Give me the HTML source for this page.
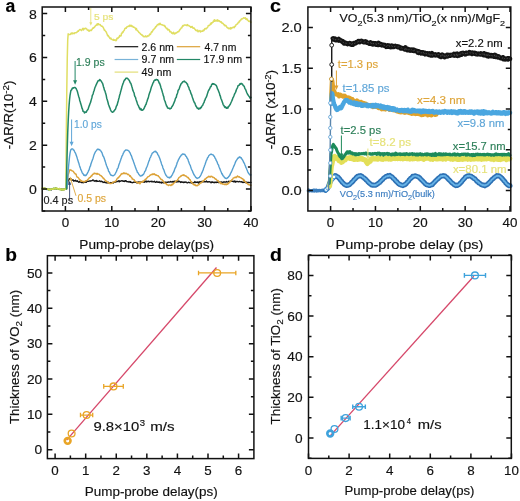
<!DOCTYPE html>
<html><head><meta charset="utf-8"><style>
html,body{margin:0;padding:0;background:#fff;}
svg{display:block;will-change:transform;filter:blur(0.4px);}
text{font-family:"Liberation Sans", sans-serif;stroke-width:0.15px;}
</style></head><body>
<svg width="520" height="501" viewBox="0 0 520 501">
<rect width="520" height="501" fill="#fff"/>
<polyline points="42.20,188.38 42.66,188.73 43.13,188.67 43.59,188.68 44.06,188.34 44.52,188.43 44.98,188.44 45.45,188.81 45.91,188.93 46.38,188.81 46.84,189.18 47.30,189.01 47.77,189.12 48.23,189.50 48.70,189.42 49.16,189.46 49.62,189.06 50.09,188.86 50.55,189.41 51.02,189.33 51.48,189.75 51.94,189.12 52.41,189.07 52.87,189.20 53.34,188.70 53.80,189.12 54.26,188.74 54.73,188.60 55.19,188.86 55.66,188.38 56.12,188.33 56.58,188.89 57.05,188.94 57.51,188.56 57.98,188.78 58.44,189.13 58.90,189.03 59.37,189.09 59.83,189.19 60.30,189.07 60.76,189.24 61.22,189.00 61.69,189.12 62.15,189.29 62.62,189.19 63.08,189.11 63.54,189.19 64.01,189.55 64.47,189.01 64.94,189.08 65.40,188.65 65.86,188.88 66.33,188.69 66.79,188.65 67.26,185.66 67.72,183.13 68.18,180.75 68.65,180.28 69.11,178.55 69.58,178.54 70.04,179.32 70.50,178.90 70.97,179.43 71.43,179.10 71.90,180.28 72.36,180.18 72.82,179.90 73.29,179.97 73.75,181.23 74.22,180.80 74.68,180.56 75.14,180.89 75.61,180.22 76.07,181.23 76.54,180.84 77.00,181.45 77.46,180.81 77.93,181.46 78.39,181.76 78.86,182.38 79.32,181.43 79.78,181.88 80.25,182.01 80.71,181.97 81.18,182.29 81.64,182.63 82.10,182.68 82.57,182.66 83.03,181.91 83.50,182.79 83.96,182.45 84.42,182.29 84.89,182.03 85.35,181.83 85.82,182.33 86.28,182.39 86.74,181.71 87.21,181.20 87.67,181.24 88.14,181.31 88.60,181.38 89.06,181.08 89.53,181.16 89.99,180.72 90.46,181.17 90.92,180.79 91.38,180.81 91.85,180.55 92.31,180.62 92.78,179.84 93.24,180.18 93.70,180.18 94.17,181.36 94.63,180.82 95.10,180.94 95.56,180.60 96.02,181.57 96.49,180.49 96.95,180.59 97.42,181.44 97.88,181.40 98.34,181.42 98.81,181.23 99.27,181.12 99.74,180.75 100.20,181.59 100.66,181.37 101.13,181.66 101.59,181.24 102.06,181.67 102.52,181.56 102.98,182.46 103.45,182.26 103.91,182.55 104.38,181.87 104.84,182.23 105.30,182.62 105.77,182.74 106.23,182.49 106.70,182.94 107.16,183.06 107.62,182.63 108.09,182.01 108.55,182.92 109.02,183.04 109.48,183.25 109.94,183.29 110.41,182.66 110.87,182.52 111.34,182.75 111.80,182.58 112.26,182.59 112.73,182.50 113.19,182.96 113.66,182.51 114.12,182.22 114.58,182.41 115.05,182.20 115.51,182.20 115.98,181.93 116.44,181.43 116.90,181.74 117.37,181.56 117.83,181.16 118.30,181.13 118.76,180.72 119.22,181.90 119.69,180.89 120.15,181.29 120.62,181.07 121.08,180.83 121.54,180.75 122.01,180.78 122.47,181.09 122.94,180.63 123.40,181.29 123.86,181.28 124.33,181.01 124.79,181.51 125.26,180.67 125.72,181.10 126.18,180.78 126.65,181.57 127.11,181.75 127.58,181.64 128.04,181.52 128.50,182.03 128.97,181.78 129.43,181.97 129.90,181.50 130.36,182.31 130.82,181.81 131.29,182.42 131.75,182.57 132.22,182.53 132.68,182.73 133.14,182.32 133.61,182.05 134.07,182.35 134.54,182.21 135.00,181.89 135.46,182.33 135.93,182.35 136.39,182.49 136.86,182.90 137.32,182.10 137.78,182.90 138.25,182.07 138.71,182.25 139.18,181.83 139.64,182.17 140.10,182.37 140.57,181.93 141.03,182.17 141.50,181.99 141.96,181.86 142.42,181.86 142.89,181.82 143.35,181.98 143.82,181.71 144.28,182.30 144.74,181.60 145.21,181.90 145.67,181.10 146.14,181.01 146.60,182.04 147.06,181.33 147.53,181.39 147.99,181.68 148.46,181.15 148.92,181.48 149.38,181.91 149.85,181.43 150.31,181.41 150.78,181.35 151.24,181.82 151.70,181.25 152.17,181.25 152.63,181.92 153.10,181.81 153.56,181.68 154.02,181.90 154.49,181.21 154.95,181.78 155.42,182.25 155.88,182.24 156.34,182.07 156.81,181.37 157.27,182.25 157.74,182.21 158.20,182.14 158.66,182.38 159.13,181.67 159.59,182.65 160.06,182.27 160.52,182.50 160.98,182.38 161.45,183.00 161.91,182.05 162.38,182.68 162.84,182.63 163.30,182.95 163.77,182.87 164.23,182.43 164.70,182.27 165.16,182.32 165.62,182.14 166.09,182.27 166.55,182.45 167.02,182.14 167.48,182.17 167.94,182.35 168.41,182.02 168.87,181.78 169.34,182.07 169.80,182.21 170.26,181.80 170.73,181.35 171.19,181.99 171.66,181.90 172.12,181.86 172.58,181.37 173.05,182.33 173.51,181.57 173.98,181.26 174.44,181.89 174.90,181.10 175.37,181.40 175.83,181.74 176.30,181.48 176.76,182.05 177.22,181.73 177.69,180.96 178.15,181.87 178.62,180.99 179.08,181.65 179.54,181.32 180.01,181.67 180.47,182.46 180.94,181.96 181.40,181.76 181.86,182.25 182.33,182.37 182.79,181.86 183.26,182.25 183.72,182.65 184.18,182.38 184.65,181.92 185.11,182.42 185.58,182.01 186.04,181.87 186.50,182.41 186.97,182.83 187.43,182.93 187.90,182.55 188.36,182.28 188.82,182.51 189.29,182.43 189.75,182.78 190.22,182.54 190.68,182.80 191.14,182.75 191.61,183.06 192.07,183.14 192.54,182.76 193.00,182.95 193.46,182.87 193.93,182.31 194.39,182.53 194.86,181.50 195.32,182.12 195.78,182.59 196.25,182.08 196.71,182.18 197.18,182.47 197.64,181.84 198.10,182.41 198.57,183.12 199.03,181.81 199.50,182.23 199.96,181.50 200.42,182.16 200.89,182.30 201.35,181.37 201.82,182.20 202.28,181.76 202.74,181.33 203.21,181.75 203.67,181.80 204.14,181.73 204.60,181.49 205.06,182.03 205.53,181.57 205.99,181.59 206.46,181.03 206.92,181.92 207.38,182.13 207.85,181.61 208.31,182.00 208.78,181.81 209.24,181.89 209.70,181.58 210.17,182.21 210.63,182.06 211.10,182.90 211.56,182.39 212.02,181.62 212.49,182.39 212.95,182.43 213.42,182.63 213.88,182.07 214.34,182.23 214.81,182.70 215.27,182.12 215.74,182.27 216.20,182.13 216.66,182.61 217.13,181.83 217.59,182.28 218.06,182.46 218.52,182.59 218.98,182.50 219.45,182.13 219.91,182.49 220.38,182.03 220.84,182.17 221.30,181.90 221.77,182.04 222.23,182.30 222.70,182.87 223.16,182.11 223.62,181.90 224.09,182.07 224.55,181.89 225.02,182.18 225.48,182.11 225.94,182.25 226.41,181.44 226.87,181.80 227.34,181.97 227.80,182.20 228.26,181.78 228.73,181.22 229.19,181.51 229.66,181.87 230.12,181.13 230.58,181.11 231.05,181.24 231.51,181.30 231.98,181.17 232.44,181.37 232.90,181.29 233.37,181.81 233.83,181.06 234.30,181.49 234.76,180.91 235.22,182.26 235.69,181.38 236.15,181.31 236.62,181.76 237.08,181.53 237.54,181.45 238.01,181.54 238.47,181.93 238.94,181.83 239.40,181.48 239.86,181.43 240.33,181.85 240.79,181.89 241.26,181.88 241.72,181.64 242.18,182.37 242.65,182.49 243.11,182.05 243.58,182.48 244.04,182.34 244.50,182.15 244.97,182.05 245.43,182.59 245.90,182.01 246.36,182.88 246.82,182.14 247.29,182.86 247.75,182.78 248.22,182.16 248.68,182.52 249.14,182.66 249.61,182.56 250.07,182.26 250.54,182.44 251.00,182.43" fill="none" stroke="#151515" stroke-width="1.3" stroke-linejoin="round" stroke-linecap="round" />
<polyline points="42.20,188.84 42.66,188.84 43.13,188.20 43.59,188.64 44.06,188.56 44.52,188.80 44.98,188.42 45.45,188.40 45.91,188.93 46.38,188.87 46.84,189.25 47.30,188.79 47.77,189.06 48.23,189.52 48.70,189.11 49.16,189.33 49.62,189.33 50.09,189.33 50.55,189.52 51.02,189.43 51.48,189.10 51.94,189.16 52.41,189.26 52.87,188.51 53.34,188.90 53.80,188.88 54.26,188.83 54.73,188.47 55.19,188.36 55.66,188.50 56.12,188.36 56.58,188.90 57.05,188.70 57.51,188.78 57.98,188.76 58.44,188.75 58.90,189.40 59.37,188.37 59.83,189.34 60.30,189.16 60.76,189.13 61.22,189.18 61.69,189.36 62.15,190.06 62.62,189.66 63.08,189.22 63.54,189.54 64.01,189.50 64.47,189.70 64.94,188.82 65.40,188.88 65.86,189.09 66.33,188.83 66.79,188.73 67.26,183.61 67.72,178.50 68.18,175.13 68.65,173.48 69.11,172.04 69.58,170.38 70.04,169.58 70.50,170.16 70.97,170.21 71.43,170.13 71.90,170.88 72.36,170.84 72.82,171.03 73.29,171.56 73.75,172.06 74.22,172.90 74.68,173.09 75.14,173.98 75.61,174.01 76.07,174.21 76.54,175.93 77.00,177.03 77.46,177.08 77.93,177.43 78.39,177.80 78.86,178.36 79.32,179.51 79.78,180.00 80.25,179.78 80.71,180.96 81.18,180.59 81.64,181.31 82.10,181.21 82.57,181.40 83.03,181.48 83.50,181.49 83.96,182.06 84.42,181.55 84.89,181.51 85.35,181.22 85.82,180.67 86.28,180.88 86.74,180.69 87.21,180.33 87.67,179.78 88.14,179.00 88.60,179.06 89.06,177.94 89.53,177.75 89.99,177.43 90.46,177.31 90.92,176.32 91.38,175.72 91.85,176.10 92.31,174.72 92.78,174.20 93.24,174.30 93.70,173.96 94.17,173.08 94.63,173.28 95.10,173.84 95.56,173.47 96.02,173.48 96.49,173.51 96.95,174.31 97.42,173.40 97.88,174.02 98.34,173.96 98.81,174.31 99.27,174.27 99.74,174.98 100.20,175.50 100.66,175.45 101.13,175.58 101.59,176.58 102.06,176.48 102.52,177.32 102.98,178.06 103.45,177.86 103.91,179.12 104.38,179.00 104.84,179.96 105.30,180.11 105.77,181.10 106.23,181.38 106.70,181.15 107.16,181.79 107.62,182.17 108.09,182.61 108.55,182.57 109.02,183.38 109.48,183.46 109.94,183.26 110.41,183.55 110.87,183.53 111.34,183.30 111.80,183.23 112.26,183.13 112.73,182.32 113.19,182.29 113.66,181.93 114.12,182.01 114.58,181.80 115.05,181.70 115.51,180.89 115.98,180.99 116.44,180.01 116.90,179.05 117.37,178.25 117.83,177.94 118.30,178.01 118.76,177.05 119.22,176.96 119.69,175.94 120.15,175.77 120.62,175.01 121.08,174.04 121.54,174.21 122.01,173.41 122.47,173.83 122.94,173.76 123.40,173.02 123.86,172.76 124.33,173.42 124.79,173.19 125.26,173.71 125.72,173.38 126.18,173.14 126.65,173.63 127.11,174.01 127.58,174.54 128.04,174.26 128.50,174.45 128.97,174.89 129.43,175.40 129.90,176.33 130.36,175.78 130.82,176.85 131.29,177.35 131.75,177.55 132.22,178.99 132.68,178.79 133.14,179.29 133.61,179.59 134.07,179.72 134.54,180.43 135.00,181.59 135.46,181.47 135.93,181.63 136.39,181.95 136.86,182.68 137.32,183.02 137.78,182.46 138.25,182.65 138.71,182.84 139.18,183.43 139.64,182.26 140.10,183.73 140.57,182.78 141.03,181.82 141.50,182.36 141.96,182.00 142.42,182.19 142.89,181.05 143.35,181.59 143.82,180.71 144.28,180.36 144.74,180.34 145.21,179.28 145.67,179.61 146.14,178.92 146.60,178.26 147.06,177.95 147.53,177.22 147.99,176.65 148.46,176.64 148.92,176.33 149.38,175.96 149.85,175.58 150.31,174.88 150.78,174.95 151.24,174.51 151.70,174.48 152.17,174.57 152.63,173.90 153.10,174.45 153.56,174.09 154.02,173.62 154.49,174.54 154.95,174.31 155.42,174.97 155.88,174.81 156.34,175.37 156.81,175.28 157.27,175.65 157.74,175.77 158.20,175.67 158.66,176.51 159.13,176.82 159.59,177.50 160.06,178.03 160.52,178.71 160.98,179.52 161.45,179.41 161.91,179.40 162.38,180.28 162.84,181.10 163.30,180.87 163.77,182.02 164.23,182.53 164.70,183.16 165.16,183.48 165.62,183.63 166.09,183.23 166.55,184.27 167.02,184.82 167.48,184.92 167.94,184.99 168.41,185.63 168.87,185.14 169.34,185.02 169.80,185.17 170.26,185.05 170.73,185.59 171.19,185.58 171.66,184.41 172.12,184.24 172.58,184.82 173.05,183.91 173.51,183.60 173.98,183.01 174.44,182.68 174.90,182.45 175.37,181.72 175.83,181.23 176.30,180.77 176.76,180.84 177.22,180.69 177.69,179.44 178.15,179.21 178.62,178.10 179.08,177.47 179.54,177.18 180.01,176.98 180.47,176.46 180.94,175.77 181.40,176.10 181.86,175.32 182.33,175.20 182.79,175.21 183.26,174.74 183.72,175.42 184.18,174.91 184.65,175.63 185.11,175.74 185.58,176.07 186.04,175.87 186.50,176.68 186.97,176.75 187.43,177.59 187.90,177.36 188.36,177.63 188.82,178.71 189.29,178.81 189.75,179.75 190.22,179.81 190.68,181.07 191.14,182.19 191.61,181.74 192.07,182.79 192.54,183.58 193.00,183.91 193.46,184.63 193.93,184.50 194.39,185.09 194.86,184.48 195.32,184.92 195.78,185.78 196.25,185.77 196.71,185.44 197.18,185.81 197.64,185.09 198.10,184.91 198.57,184.94 199.03,184.62 199.50,183.98 199.96,183.35 200.42,182.97 200.89,183.07 201.35,182.39 201.82,182.49 202.28,181.66 202.74,181.66 203.21,180.65 203.67,180.84 204.14,180.29 204.60,179.54 205.06,178.92 205.53,179.17 205.99,178.49 206.46,177.91 206.92,177.55 207.38,177.62 207.85,177.06 208.31,176.97 208.78,176.26 209.24,176.42 209.70,176.96 210.17,177.23 210.63,176.49 211.10,176.19 211.56,176.62 212.02,176.52 212.49,177.14 212.95,177.63 213.42,177.18 213.88,177.66 214.34,177.76 214.81,178.76 215.27,178.59 215.74,179.21 216.20,179.12 216.66,179.96 217.13,180.36 217.59,180.75 218.06,180.54 218.52,181.34 218.98,181.99 219.45,182.45 219.91,182.81 220.38,182.33 220.84,183.73 221.30,183.71 221.77,183.48 222.23,183.54 222.70,184.18 223.16,184.05 223.62,184.19 224.09,184.21 224.55,184.58 225.02,184.07 225.48,184.52 225.94,184.00 226.41,184.73 226.87,183.87 227.34,184.35 227.80,184.15 228.26,183.17 228.73,183.24 229.19,182.43 229.66,182.51 230.12,181.18 230.58,181.25 231.05,181.15 231.51,180.25 231.98,179.55 232.44,179.63 232.90,178.77 233.37,177.84 233.83,177.84 234.30,177.76 234.76,177.62 235.22,176.96 235.69,177.42 236.15,177.73 236.62,176.81 237.08,176.87 237.54,175.91 238.01,176.46 238.47,176.91 238.94,177.10 239.40,176.72 239.86,177.38 240.33,177.57 240.79,177.71 241.26,178.00 241.72,178.37 242.18,178.77 242.65,178.81 243.11,179.13 243.58,180.70 244.04,179.78 244.50,181.06 244.97,181.16 245.43,182.28 245.90,182.38 246.36,182.85 246.82,183.29 247.29,183.42 247.75,183.84 248.22,184.68 248.68,184.66 249.14,184.60 249.61,184.79 250.07,185.26 250.54,185.31 251.00,185.30" fill="none" stroke="#dca238" stroke-width="1.4" stroke-linejoin="round" stroke-linecap="round" />
<polyline points="42.20,188.51 42.66,188.45 43.13,188.75 43.59,188.72 44.06,188.84 44.52,188.62 44.98,188.46 45.45,188.71 45.91,188.90 46.38,189.24 46.84,189.00 47.30,189.24 47.77,189.69 48.23,189.72 48.70,189.47 49.16,189.63 49.62,189.08 50.09,189.42 50.55,189.61 51.02,189.43 51.48,188.91 51.94,189.37 52.41,188.90 52.87,188.87 53.34,188.55 53.80,188.66 54.26,188.78 54.73,188.52 55.19,188.57 55.66,188.35 56.12,188.58 56.58,188.15 57.05,188.65 57.51,188.60 57.98,188.92 58.44,188.84 58.90,188.96 59.37,189.03 59.83,188.96 60.30,189.37 60.76,189.51 61.22,189.14 61.69,189.48 62.15,189.58 62.62,189.18 63.08,189.23 63.54,189.92 64.01,189.36 64.47,189.02 64.94,188.91 65.40,189.11 65.86,188.56 66.33,188.97 66.79,188.77 67.26,184.95 67.72,177.57 68.18,170.61 68.65,165.45 69.11,160.84 69.58,156.36 70.04,153.18 70.50,150.84 70.97,149.42 71.43,149.28 71.90,148.84 72.36,148.88 72.82,149.00 73.29,149.97 73.75,149.98 74.22,150.63 74.68,151.82 75.14,152.54 75.61,153.38 76.07,154.90 76.54,155.95 77.00,157.35 77.46,158.95 77.93,160.43 78.39,162.13 78.86,163.20 79.32,165.13 79.78,166.63 80.25,167.65 80.71,169.34 81.18,170.26 81.64,171.21 82.10,172.46 82.57,173.33 83.03,173.84 83.50,174.45 83.96,175.47 84.42,175.66 84.89,175.05 85.35,175.22 85.82,175.64 86.28,175.07 86.74,174.18 87.21,173.78 87.67,172.60 88.14,171.78 88.60,170.63 89.06,169.94 89.53,168.25 89.99,166.60 90.46,165.97 90.92,164.03 91.38,162.70 91.85,161.36 92.31,160.13 92.78,159.03 93.24,157.61 93.70,155.88 94.17,154.61 94.63,153.41 95.10,152.44 95.56,151.54 96.02,151.09 96.49,150.62 96.95,149.73 97.42,149.27 97.88,149.14 98.34,149.49 98.81,149.30 99.27,149.75 99.74,149.67 100.20,150.45 100.66,150.81 101.13,151.40 101.59,152.28 102.06,152.89 102.52,154.57 102.98,155.96 103.45,156.33 103.91,157.45 104.38,158.73 104.84,160.36 105.30,161.64 105.77,163.11 106.23,164.83 106.70,165.97 107.16,166.98 107.62,168.50 108.09,169.04 108.55,171.05 109.02,171.79 109.48,172.32 109.94,173.60 110.41,174.45 110.87,175.11 111.34,175.41 111.80,175.17 112.26,175.66 112.73,175.70 113.19,175.90 113.66,175.33 114.12,175.17 114.58,174.95 115.05,174.21 115.51,173.29 115.98,172.18 116.44,171.54 116.90,170.33 117.37,168.78 117.83,168.31 118.30,167.15 118.76,165.24 119.22,164.04 119.69,162.82 120.15,161.36 120.62,160.17 121.08,158.62 121.54,157.57 122.01,156.06 122.47,155.43 122.94,154.28 123.40,153.07 123.86,152.36 124.33,151.31 124.79,150.88 125.26,150.53 125.72,149.97 126.18,149.96 126.65,150.15 127.11,150.11 127.58,150.22 128.04,150.47 128.50,150.78 128.97,151.14 129.43,151.94 129.90,152.42 130.36,153.47 130.82,154.85 131.29,155.45 131.75,156.73 132.22,158.38 132.68,159.44 133.14,160.52 133.61,162.06 134.07,163.18 134.54,164.66 135.00,165.87 135.46,167.40 135.93,168.43 136.39,169.78 136.86,170.59 137.32,172.22 137.78,172.60 138.25,173.17 138.71,174.04 139.18,174.78 139.64,175.09 140.10,175.79 140.57,175.98 141.03,175.93 141.50,175.80 141.96,175.31 142.42,175.47 142.89,174.52 143.35,174.62 143.82,173.72 144.28,172.72 144.74,171.50 145.21,170.98 145.67,170.31 146.14,168.50 146.60,167.43 147.06,166.48 147.53,165.21 147.99,163.85 148.46,162.37 148.92,160.96 149.38,160.29 149.85,158.11 150.31,157.59 150.78,156.61 151.24,155.35 151.70,154.59 152.17,153.21 152.63,152.84 153.10,152.65 153.56,152.19 154.02,151.89 154.49,151.65 154.95,151.32 155.42,151.74 155.88,151.36 156.34,152.16 156.81,152.67 157.27,153.01 157.74,154.53 158.20,155.12 158.66,155.69 159.13,156.92 159.59,158.08 160.06,159.20 160.52,160.75 160.98,161.96 161.45,163.64 161.91,165.15 162.38,165.69 162.84,167.63 163.30,168.91 163.77,169.64 164.23,170.95 164.70,172.52 165.16,173.59 165.62,174.45 166.09,175.55 166.55,175.90 167.02,176.63 167.48,177.13 167.94,177.32 168.41,177.55 168.87,177.32 169.34,177.35 169.80,178.02 170.26,177.03 170.73,177.14 171.19,176.70 171.66,175.50 172.12,175.14 172.58,174.21 173.05,172.93 173.51,172.41 173.98,171.42 174.44,169.99 174.90,168.61 175.37,167.62 175.83,166.98 176.30,165.54 176.76,164.22 177.22,162.49 177.69,161.62 178.15,160.53 178.62,159.39 179.08,158.80 179.54,157.69 180.01,156.86 180.47,156.51 180.94,155.62 181.40,154.94 181.86,154.96 182.33,154.16 182.79,153.99 183.26,153.86 183.72,154.39 184.18,154.35 184.65,154.30 185.11,154.90 185.58,155.85 186.04,156.23 186.50,156.66 186.97,157.90 187.43,158.71 187.90,159.13 188.36,160.89 188.82,162.03 189.29,163.43 189.75,164.54 190.22,165.19 190.68,166.84 191.14,168.33 191.61,169.46 192.07,170.38 192.54,171.30 193.00,172.76 193.46,173.38 193.93,174.63 194.39,175.25 194.86,175.95 195.32,176.57 195.78,177.39 196.25,177.74 196.71,177.87 197.18,178.53 197.64,178.21 198.10,178.05 198.57,177.70 199.03,177.63 199.50,177.19 199.96,176.49 200.42,175.99 200.89,175.01 201.35,173.90 201.82,172.89 202.28,172.12 202.74,170.75 203.21,169.98 203.67,167.94 204.14,166.99 204.60,165.48 205.06,164.54 205.53,163.00 205.99,161.62 206.46,160.29 206.92,159.79 207.38,158.17 207.85,157.49 208.31,156.81 208.78,155.74 209.24,155.33 209.70,154.85 210.17,154.61 210.63,154.16 211.10,154.13 211.56,154.24 212.02,154.61 212.49,154.77 212.95,154.90 213.42,155.15 213.88,156.07 214.34,156.35 214.81,157.48 215.27,158.59 215.74,159.04 216.20,160.43 216.66,161.09 217.13,161.98 217.59,163.44 218.06,164.51 218.52,164.98 218.98,166.71 219.45,167.85 219.91,168.84 220.38,170.17 220.84,171.24 221.30,172.13 221.77,173.83 222.23,173.73 222.70,175.21 223.16,175.97 223.62,176.21 224.09,176.91 224.55,177.73 225.02,177.72 225.48,178.34 225.94,178.39 226.41,178.66 226.87,178.42 227.34,177.91 227.80,177.68 228.26,177.21 228.73,176.51 229.19,176.13 229.66,175.55 230.12,174.62 230.58,173.21 231.05,172.66 231.51,171.55 231.98,170.58 232.44,169.38 232.90,168.19 233.37,167.17 233.83,166.08 234.30,165.13 234.76,164.06 235.22,162.70 235.69,161.64 236.15,160.68 236.62,160.08 237.08,159.58 237.54,158.55 238.01,158.02 238.47,158.16 238.94,157.25 239.40,157.12 239.86,156.78 240.33,157.59 240.79,157.86 241.26,157.69 241.72,158.89 242.18,159.26 242.65,160.13 243.11,161.00 243.58,162.21 244.04,162.82 244.50,163.62 244.97,164.91 245.43,166.08 245.90,167.47 246.36,168.15 246.82,169.50 247.29,170.42 247.75,172.08 248.22,172.47 248.68,173.63 249.14,173.89 249.61,174.45 250.07,175.18 250.54,175.07 251.00,174.88" fill="none" stroke="#559fd0" stroke-width="1.4" stroke-linejoin="round" stroke-linecap="round" />
<polyline points="42.20,187.76 42.66,188.38 43.13,188.57 43.59,188.46 44.06,189.19 44.52,188.30 44.98,188.69 45.45,189.12 45.91,188.64 46.38,189.14 46.84,189.32 47.30,189.08 47.77,189.19 48.23,189.45 48.70,189.42 49.16,189.73 49.62,189.76 50.09,189.23 50.55,189.10 51.02,189.23 51.48,189.17 51.94,189.25 52.41,189.10 52.87,189.17 53.34,188.48 53.80,188.90 54.26,188.61 54.73,188.63 55.19,188.89 55.66,188.14 56.12,188.65 56.58,188.76 57.05,188.61 57.51,188.89 57.98,188.77 58.44,189.08 58.90,188.84 59.37,189.05 59.83,189.46 60.30,189.02 60.76,189.28 61.22,189.63 61.69,189.34 62.15,189.34 62.62,189.02 63.08,189.59 63.54,189.16 64.01,189.30 64.47,189.06 64.94,189.16 65.40,189.01 65.86,188.79 66.33,133.66 66.79,89.52 67.26,58.49 67.72,39.90 68.18,33.84 68.65,34.60 69.11,34.60 69.58,34.59 70.04,34.53 70.50,34.33 70.97,33.39 71.43,33.01 71.90,33.76 72.36,32.96 72.82,33.73 73.29,33.19 73.75,33.40 74.22,33.62 74.68,32.86 75.14,32.80 75.61,32.87 76.07,32.70 76.54,32.61 77.00,31.89 77.46,31.73 77.93,30.99 78.39,31.28 78.86,30.36 79.32,30.01 79.78,29.54 80.25,29.58 80.71,29.92 81.18,30.20 81.64,30.54 82.10,29.53 82.57,28.67 83.03,28.31 83.50,29.91 83.96,28.92 84.42,28.58 84.89,28.78 85.35,28.20 85.82,28.34 86.28,28.80 86.74,28.91 87.21,29.98 87.67,30.13 88.14,30.49 88.60,30.02 89.06,31.34 89.53,30.79 89.99,30.32 90.46,30.57 90.92,30.01 91.38,30.40 91.85,29.61 92.31,29.04 92.78,28.04 93.24,28.26 93.70,27.48 94.17,27.62 94.63,27.10 95.10,25.99 95.56,25.98 96.02,25.20 96.49,25.15 96.95,24.21 97.42,23.85 97.88,25.07 98.34,23.78 98.81,24.37 99.27,24.38 99.74,24.76 100.20,24.58 100.66,25.64 101.13,25.80 101.59,26.22 102.06,26.22 102.52,26.46 102.98,27.11 103.45,27.90 103.91,28.98 104.38,30.20 104.84,29.98 105.30,30.84 105.77,31.51 106.23,31.82 106.70,33.30 107.16,34.07 107.62,35.75 108.09,35.22 108.55,36.18 109.02,37.15 109.48,37.28 109.94,38.48 110.41,38.78 110.87,38.14 111.34,39.07 111.80,39.33 112.26,39.67 112.73,39.90 113.19,40.21 113.66,39.33 114.12,40.34 114.58,39.91 115.05,40.20 115.51,40.07 115.98,40.75 116.44,40.25 116.90,38.40 117.37,38.06 117.83,38.49 118.30,37.86 118.76,37.09 119.22,37.28 119.69,35.53 120.15,36.19 120.62,35.46 121.08,35.75 121.54,33.26 122.01,33.28 122.47,31.97 122.94,32.50 123.40,31.30 123.86,30.81 124.33,30.17 124.79,28.78 125.26,28.15 125.72,28.03 126.18,28.32 126.65,27.30 127.11,26.69 127.58,26.67 128.04,26.34 128.50,26.09 128.97,26.47 129.43,25.78 129.90,25.06 130.36,26.12 130.82,25.62 131.29,25.31 131.75,26.36 132.22,25.96 132.68,26.82 133.14,26.58 133.61,27.21 134.07,27.32 134.54,27.51 135.00,27.82 135.46,28.23 135.93,29.67 136.39,28.41 136.86,29.75 137.32,30.64 137.78,30.98 138.25,31.11 138.71,32.24 139.18,32.52 139.64,33.08 140.10,33.15 140.57,34.21 141.03,34.16 141.50,34.64 141.96,35.27 142.42,35.03 142.89,35.89 143.35,36.70 143.82,36.28 144.28,36.55 144.74,36.75 145.21,36.71 145.67,35.81 146.14,36.71 146.60,36.51 147.06,36.66 147.53,35.75 147.99,36.07 148.46,36.05 148.92,35.84 149.38,34.63 149.85,34.05 150.31,34.54 150.78,33.60 151.24,32.41 151.70,31.63 152.17,32.02 152.63,30.98 153.10,29.80 153.56,29.75 154.02,29.09 154.49,28.51 154.95,28.26 155.42,27.10 155.88,26.46 156.34,26.72 156.81,25.61 157.27,24.78 157.74,24.83 158.20,24.22 158.66,24.66 159.13,23.65 159.59,24.50 160.06,23.30 160.52,24.35 160.98,24.53 161.45,24.73 161.91,24.68 162.38,24.92 162.84,25.25 163.30,25.38 163.77,25.27 164.23,25.52 164.70,26.44 165.16,26.16 165.62,27.57 166.09,28.03 166.55,28.53 167.02,28.23 167.48,29.64 167.94,30.04 168.41,29.32 168.87,29.58 169.34,30.17 169.80,31.82 170.26,31.54 170.73,31.54 171.19,32.18 171.66,33.22 172.12,32.91 172.58,33.71 173.05,33.66 173.51,32.30 173.98,33.01 174.44,33.98 174.90,33.96 175.37,33.01 175.83,33.31 176.30,32.57 176.76,32.82 177.22,32.30 177.69,31.72 178.15,31.86 178.62,31.79 179.08,30.98 179.54,30.26 180.01,29.52 180.47,28.94 180.94,28.42 181.40,27.66 181.86,27.79 182.33,26.33 182.79,25.64 183.26,25.98 183.72,25.72 184.18,24.98 184.65,25.02 185.11,25.06 185.58,25.11 186.04,25.33 186.50,25.54 186.97,24.78 187.43,24.63 187.90,25.73 188.36,25.44 188.82,25.48 189.29,25.96 189.75,26.33 190.22,26.41 190.68,27.37 191.14,26.81 191.61,27.21 192.07,26.46 192.54,27.30 193.00,28.18 193.46,28.35 193.93,27.92 194.39,28.28 194.86,29.21 195.32,29.64 195.78,30.50 196.25,30.28 196.71,30.45 197.18,30.92 197.64,30.04 198.10,31.79 198.57,31.17 199.03,31.04 199.50,31.11 199.96,30.61 200.42,31.98 200.89,31.67 201.35,31.24 201.82,31.11 202.28,31.19 202.74,31.16 203.21,30.12 203.67,30.78 204.14,30.27 204.60,29.04 205.06,28.54 205.53,28.52 205.99,28.86 206.46,28.41 206.92,27.97 207.38,27.60 207.85,26.80 208.31,25.57 208.78,25.54 209.24,25.48 209.70,25.01 210.17,24.71 210.63,23.20 211.10,24.18 211.56,22.75 212.02,23.10 212.49,22.56 212.95,22.41 213.42,21.03 213.88,21.22 214.34,19.75 214.81,21.21 215.27,21.09 215.74,20.24 216.20,20.19 216.66,20.53 217.13,21.32 217.59,19.86 218.06,20.36 218.52,20.58 218.98,21.20 219.45,20.89 219.91,21.67 220.38,21.70 220.84,22.12 221.30,21.84 221.77,22.96 222.23,23.29 222.70,23.06 223.16,23.85 223.62,24.37 224.09,24.88 224.55,24.77 225.02,25.87 225.48,25.76 225.94,25.45 226.41,26.51 226.87,27.35 227.34,27.83 227.80,27.50 228.26,28.32 228.73,28.67 229.19,28.46 229.66,28.71 230.12,27.91 230.58,28.95 231.05,27.60 231.51,28.54 231.98,28.02 232.44,27.59 232.90,27.54 233.37,27.04 233.83,27.46 234.30,27.65 234.76,26.33 235.22,26.54 235.69,25.58 236.15,24.42 236.62,24.41 237.08,24.07 237.54,23.78 238.01,22.88 238.47,22.31 238.94,22.42 239.40,21.10 239.86,21.23 240.33,20.22 240.79,20.11 241.26,19.10 241.72,18.83 242.18,18.91 242.65,18.72 243.11,18.29 243.58,17.74 244.04,17.80 244.50,18.17 244.97,18.14 245.43,17.72 245.90,19.35 246.36,18.69 246.82,19.68 247.29,19.08 247.75,20.31 248.22,20.55 248.68,21.37 249.14,21.24 249.61,21.19 250.07,21.03 250.54,22.45 251.00,22.14" fill="none" stroke="#e0de62" stroke-width="1.5" stroke-linejoin="round" stroke-linecap="round" />
<polyline points="42.20,188.89 42.66,188.55 43.13,188.76 43.59,188.79 44.06,188.58 44.52,188.48 44.98,188.58 45.45,188.73 45.91,188.72 46.38,189.39 46.84,188.95 47.30,189.14 47.77,189.35 48.23,189.38 48.70,189.62 49.16,189.21 49.62,189.63 50.09,189.78 50.55,189.42 51.02,189.49 51.48,189.30 51.94,188.86 52.41,189.13 52.87,188.97 53.34,188.40 53.80,189.12 54.26,188.65 54.73,188.41 55.19,188.29 55.66,188.10 56.12,188.74 56.58,188.48 57.05,188.68 57.51,188.82 57.98,188.96 58.44,189.22 58.90,188.92 59.37,188.93 59.83,189.43 60.30,189.11 60.76,189.48 61.22,189.64 61.69,190.03 62.15,189.22 62.62,189.30 63.08,189.50 63.54,189.46 64.01,189.59 64.47,189.11 64.94,189.14 65.40,188.91 65.86,188.89 66.33,189.14 66.79,166.50 67.26,148.35 67.72,132.72 68.18,121.16 68.65,111.98 69.11,104.92 69.58,99.40 70.04,95.27 70.50,92.64 70.97,90.14 71.43,90.12 71.90,89.20 72.36,88.14 72.82,88.44 73.29,87.75 73.75,87.92 74.22,87.50 74.68,87.56 75.14,87.39 75.61,87.89 76.07,88.40 76.54,89.48 77.00,90.37 77.46,91.80 77.93,93.58 78.39,95.35 78.86,96.99 79.32,98.16 79.78,100.87 80.25,101.78 80.71,103.82 81.18,104.98 81.64,106.71 82.10,108.44 82.57,109.44 83.03,111.25 83.50,111.26 83.96,111.81 84.42,112.95 84.89,112.18 85.35,112.43 85.82,112.10 86.28,112.24 86.74,111.04 87.21,110.37 87.67,109.75 88.14,109.13 88.60,107.49 89.06,106.16 89.53,105.17 89.99,103.62 90.46,102.71 90.92,100.97 91.38,99.37 91.85,97.88 92.31,95.42 92.78,94.63 93.24,93.39 93.70,91.39 94.17,90.53 94.63,88.62 95.10,87.13 95.56,86.28 96.02,85.05 96.49,84.19 96.95,82.90 97.42,82.35 97.88,80.88 98.34,80.70 98.81,80.60 99.27,80.76 99.74,79.55 100.20,79.89 100.66,80.46 101.13,81.05 101.59,81.74 102.06,82.81 102.52,83.07 102.98,84.81 103.45,86.68 103.91,87.87 104.38,90.07 104.84,90.65 105.30,92.32 105.77,93.75 106.23,95.42 106.70,98.15 107.16,99.50 107.62,101.04 108.09,102.75 108.55,104.74 109.02,105.76 109.48,107.19 109.94,108.09 110.41,109.58 110.87,110.52 111.34,111.29 111.80,111.74 112.26,112.16 112.73,112.13 113.19,111.76 113.66,111.49 114.12,110.75 114.58,110.19 115.05,109.55 115.51,109.17 115.98,107.49 116.44,106.05 116.90,105.49 117.37,103.94 117.83,102.32 118.30,100.70 118.76,98.74 119.22,97.21 119.69,95.01 120.15,93.77 120.62,91.67 121.08,90.09 121.54,88.59 122.01,86.36 122.47,85.21 122.94,83.67 123.40,82.71 123.86,81.25 124.33,80.32 124.79,79.77 125.26,79.67 125.72,78.36 126.18,78.12 126.65,78.20 127.11,78.25 127.58,78.51 128.04,78.84 128.50,79.73 128.97,80.05 129.43,80.68 129.90,81.86 130.36,82.97 130.82,83.13 131.29,84.74 131.75,86.31 132.22,87.71 132.68,89.83 133.14,90.88 133.61,91.98 134.07,92.98 134.54,95.59 135.00,96.65 135.46,97.27 135.93,99.13 136.39,100.62 136.86,101.71 137.32,103.41 137.78,104.62 138.25,105.42 138.71,106.37 139.18,107.88 139.64,107.78 140.10,109.49 140.57,109.63 141.03,108.75 141.50,110.15 141.96,109.83 142.42,110.30 142.89,109.84 143.35,109.58 143.82,108.93 144.28,107.89 144.74,106.70 145.21,106.03 145.67,104.73 146.14,104.22 146.60,102.29 147.06,101.21 147.53,99.51 147.99,98.60 148.46,97.01 148.92,94.93 149.38,93.61 149.85,92.22 150.31,90.94 150.78,89.26 151.24,87.63 151.70,86.18 152.17,85.32 152.63,84.06 153.10,82.73 153.56,82.28 154.02,80.78 154.49,80.40 154.95,79.90 155.42,80.26 155.88,79.75 156.34,79.49 156.81,79.44 157.27,79.88 157.74,79.86 158.20,80.58 158.66,81.51 159.13,83.05 159.59,83.03 160.06,84.82 160.52,85.89 160.98,87.75 161.45,89.07 161.91,90.43 162.38,92.22 162.84,93.64 163.30,95.67 163.77,96.59 164.23,99.47 164.70,100.56 165.16,101.51 165.62,103.27 166.09,104.57 166.55,106.11 167.02,106.09 167.48,107.92 167.94,107.76 168.41,108.32 168.87,108.38 169.34,108.28 169.80,108.92 170.26,108.76 170.73,108.27 171.19,108.28 171.66,106.87 172.12,106.58 172.58,105.60 173.05,105.12 173.51,103.75 173.98,102.88 174.44,101.55 174.90,100.66 175.37,98.70 175.83,97.95 176.30,97.25 176.76,94.85 177.22,93.82 177.69,92.68 178.15,90.26 178.62,89.84 179.08,89.05 179.54,87.65 180.01,86.25 180.47,85.45 180.94,84.06 181.40,83.32 181.86,83.24 182.33,82.39 182.79,81.74 183.26,81.76 183.72,81.58 184.18,81.07 184.65,81.28 185.11,82.09 185.58,82.13 186.04,82.54 186.50,83.02 186.97,83.91 187.43,84.03 187.90,85.69 188.36,86.73 188.82,87.38 189.29,89.35 189.75,90.16 190.22,90.88 190.68,92.83 191.14,94.00 191.61,94.71 192.07,96.26 192.54,97.72 193.00,98.96 193.46,100.53 193.93,101.42 194.39,102.74 194.86,102.93 195.32,104.57 195.78,105.77 196.25,106.47 196.71,107.13 197.18,108.17 197.64,108.44 198.10,108.00 198.57,109.16 199.03,108.95 199.50,108.37 199.96,108.03 200.42,108.56 200.89,107.33 201.35,107.41 201.82,106.11 202.28,105.76 202.74,105.19 203.21,103.95 203.67,103.02 204.14,102.41 204.60,100.34 205.06,100.00 205.53,98.32 205.99,97.65 206.46,96.86 206.92,95.41 207.38,93.86 207.85,92.41 208.31,90.90 208.78,90.34 209.24,89.41 209.70,88.74 210.17,87.44 210.63,86.50 211.10,86.60 211.56,84.81 212.02,84.34 212.49,83.55 212.95,84.30 213.42,83.81 213.88,83.76 214.34,84.28 214.81,84.37 215.27,84.82 215.74,84.88 216.20,85.61 216.66,86.14 217.13,87.68 217.59,89.08 218.06,89.65 218.52,90.93 218.98,92.15 219.45,93.32 219.91,95.32 220.38,96.26 220.84,98.25 221.30,99.23 221.77,100.37 222.23,101.89 222.70,102.96 223.16,104.56 223.62,105.28 224.09,105.85 224.55,107.00 225.02,107.44 225.48,106.76 225.94,107.72 226.41,108.16 226.87,108.17 227.34,107.20 227.80,108.29 228.26,107.09 228.73,106.27 229.19,106.06 229.66,105.00 230.12,104.72 230.58,103.51 231.05,102.54 231.51,101.54 231.98,100.42 232.44,99.35 232.90,97.84 233.37,97.13 233.83,96.05 234.30,94.77 234.76,93.61 235.22,92.86 235.69,91.88 236.15,90.62 236.62,89.07 237.08,88.43 237.54,87.47 238.01,85.60 238.47,85.47 238.94,85.30 239.40,84.93 239.86,83.87 240.33,84.29 240.79,83.45 241.26,83.61 241.72,83.43 242.18,84.36 242.65,84.21 243.11,85.64 243.58,85.76 244.04,86.13 244.50,87.14 244.97,88.93 245.43,89.12 245.90,90.25 246.36,91.48 246.82,92.75 247.29,93.63 247.75,94.68 248.22,95.06 248.68,96.00 249.14,96.47 249.61,97.12 250.07,98.16 250.54,97.93 251.00,97.35" fill="none" stroke="#228766" stroke-width="1.5" stroke-linejoin="round" stroke-linecap="round" />
<polyline points="42.20,188.99 42.66,188.51 43.13,188.96 43.59,188.53 44.06,188.42 44.52,188.96 44.98,188.59 45.45,188.82 45.91,188.80 46.38,189.16 46.84,189.12 47.30,189.12 47.77,188.89 48.23,189.20 48.70,189.31 49.16,189.73 49.62,189.38 50.09,189.59 50.55,189.42 51.02,189.28 51.48,189.05 51.94,189.05 52.41,189.04 52.87,188.99 53.34,188.58 53.80,188.98 54.26,188.70 54.73,188.34 55.19,188.64 55.66,188.39 56.12,188.38 56.58,188.16 57.05,188.39 57.51,189.07 57.98,188.78 58.44,188.81 58.90,188.79 59.37,188.99 59.83,188.76 60.30,189.02 60.76,189.60 61.22,189.54 61.69,189.89 62.15,189.07 62.62,189.48 63.08,189.45 63.54,189.72 64.01,189.40 64.47,189.12 64.94,189.21 65.40,189.11" fill="none" stroke="#c9d84e" stroke-width="1.8" stroke-linejoin="round" stroke-linecap="round" />
<rect x="42.2" y="7.0" width="208.70" height="204.00" fill="none" stroke="#111" stroke-width="1.5"/>
<path d="M65.40,211.0V206.0M65.40,7.0V12.0M111.80,211.0V206.0M111.80,7.0V12.0M158.20,211.0V206.0M158.20,7.0V12.0M204.60,211.0V206.0M204.60,7.0V12.0M251.00,211.0V206.0M251.00,7.0V12.0M88.60,211.0V208.0M88.60,7.0V10.0M135.00,211.0V208.0M135.00,7.0V10.0M181.40,211.0V208.0M181.40,7.0V10.0M227.80,211.0V208.0M227.80,7.0V10.0M42.2,189.00H47.2M250.9,189.00H245.9M42.2,145.15H47.2M250.9,145.15H245.9M42.2,101.30H47.2M250.9,101.30H245.9M42.2,57.45H47.2M250.9,57.45H245.9M42.2,13.60H47.2M250.9,13.60H245.9M42.2,210.93H45.2M250.9,210.93H247.9M42.2,167.07H45.2M250.9,167.07H247.9M42.2,123.22H45.2M250.9,123.22H247.9M42.2,79.38H45.2M250.9,79.38H247.9M42.2,35.53H45.2M250.9,35.53H247.9" stroke="#111" stroke-width="1.5" fill="none"/>
<text transform="translate(36.80,193.90) scale(1.0600,1)" font-size="13.3" text-anchor="end" fill="#111" stroke="#111" font-weight="normal" >0</text>
<text transform="translate(36.80,150.05) scale(1.0600,1)" font-size="13.3" text-anchor="end" fill="#111" stroke="#111" font-weight="normal" >2</text>
<text transform="translate(36.80,106.20) scale(1.0600,1)" font-size="13.3" text-anchor="end" fill="#111" stroke="#111" font-weight="normal" >4</text>
<text transform="translate(36.80,62.35) scale(1.0600,1)" font-size="13.3" text-anchor="end" fill="#111" stroke="#111" font-weight="normal" >6</text>
<text transform="translate(36.80,18.50) scale(1.0600,1)" font-size="13.3" text-anchor="end" fill="#111" stroke="#111" font-weight="normal" >8</text>
<text transform="translate(65.40,227.40) scale(1.0300,1)" font-size="13.0" text-anchor="middle" fill="#111" stroke="#111" font-weight="normal" >0</text>
<text transform="translate(111.80,227.40) scale(1.0300,1)" font-size="13.0" text-anchor="middle" fill="#111" stroke="#111" font-weight="normal" >10</text>
<text transform="translate(158.20,227.40) scale(1.0300,1)" font-size="13.0" text-anchor="middle" fill="#111" stroke="#111" font-weight="normal" >20</text>
<text transform="translate(204.60,227.40) scale(1.0300,1)" font-size="13.0" text-anchor="middle" fill="#111" stroke="#111" font-weight="normal" >30</text>
<text transform="translate(251.00,227.40) scale(1.0300,1)" font-size="13.0" text-anchor="middle" fill="#111" stroke="#111" font-weight="normal" >40</text>
<text id="axl" transform="translate(146.67,248.90) scale(1.0900,1)" font-size="12.5" text-anchor="middle" fill="#111" stroke="#111" font-weight="normal" >Pump-probe delay(ps)</text>
<text id="ayl" transform="translate(13.40,114.90) rotate(-90) scale(1.1076,1)" font-size="12" text-anchor="middle" fill="#111" stroke="#111" font-weight="normal" >-ΔR/R(10<tspan dy="-4.5" font-size="8.8">-2</tspan><tspan dy="4.5">)</tspan></text>
<path d="M114.6,46.7H138.2" stroke="#151515" stroke-width="1.2"/>
<text id="lg1" transform="translate(141.52,50.50) scale(1.0579,1)" font-size="10" text-anchor="start" fill="#111" stroke="#111" font-weight="normal" >2.6 nm</text>
<path d="M176.8,46.7H200.2" stroke="#dca238" stroke-width="1.2"/>
<text id="lg2" transform="translate(204.55,50.50) scale(1.0398,1)" font-size="10" text-anchor="start" fill="#111" stroke="#111" font-weight="normal" >4.7 nm</text>
<path d="M114.6,59.5H138.2" stroke="#78b2d8" stroke-width="1.2"/>
<text id="lg3" transform="translate(141.60,63.30) scale(1.0700,1)" font-size="10" text-anchor="start" fill="#111" stroke="#111" font-weight="normal" >9.7 nm</text>
<path d="M176.8,59.5H200.2" stroke="#228766" stroke-width="1.2"/>
<text id="lg4" transform="translate(203.60,63.30) scale(1.0700,1)" font-size="10" text-anchor="start" fill="#111" stroke="#111" font-weight="normal" >17.9 nm</text>
<path d="M114.6,72.1H138.2" stroke="#e2df78" stroke-width="1.2"/>
<text id="lg5" transform="translate(141.60,75.90) scale(1.0700,1)" font-size="10" text-anchor="start" fill="#111" stroke="#111" font-weight="normal" >49 nm</text>
<path d="M90.80,8.00V23.60" stroke="#e6e27a" stroke-width="0.9" fill="none"/>
<path d="M90.80,25.70L89.30,22.20L92.30,22.20Z" fill="#e6e27a"/>
<text id="a5" transform="translate(93.97,19.90) scale(1.0839,1)" font-size="9.5" text-anchor="start" fill="#e6e27a" stroke="#e6e27a" font-weight="normal" >5 ps</text>
<path d="M75.10,61.00V82.10" stroke="#228766" stroke-width="1.0" fill="none"/>
<path d="M75.10,84.80L73.10,80.30L77.10,80.30Z" fill="#228766"/>
<text id="a19" transform="translate(76.00,65.50) scale(1.0530,1)" font-size="10" text-anchor="start" fill="#2c7f58" stroke="#2c7f58" font-weight="normal" >1.9 ps</text>
<path d="M71.60,119.50V143.50" stroke="#5fa6d8" stroke-width="1.0" fill="none"/>
<path d="M71.60,146.20L69.60,141.70L73.60,141.70Z" fill="#5fa6d8"/>
<text id="a10" transform="translate(74.05,127.70) scale(1.0214,1)" font-size="10" text-anchor="start" fill="#5fa6d8" stroke="#5fa6d8" font-weight="normal" >1.0 ps</text>
<path d="M69.60,200.00V183.20" stroke="#34446e" stroke-width="0.9" fill="none"/>
<path d="M69.60,180.80L68.00,184.80L71.20,184.80Z" fill="#34446e"/>
<text id="a04" transform="translate(43.47,204.40) scale(1.0882,1)" font-size="10" text-anchor="start" fill="#222" stroke="#222" font-weight="normal" >0.4 ps</text>
<path d="M76.00,195.80L70.62,178.79" stroke="#dea53a" stroke-width="0.9" fill="none"/>
<path d="M69.90,176.50L72.63,179.83L69.58,180.80Z" fill="#dea53a"/>
<text id="a05" transform="translate(77.46,201.80) scale(1.0515,1)" font-size="10" text-anchor="start" fill="#dea53a" stroke="#dea53a" font-weight="normal" >0.5 ps</text>
<text id="la" transform="translate(5.39,11.90) scale(0.9273,1)" font-size="19" text-anchor="start" fill="#000" stroke="#000" font-weight="bold" >a</text>
<polyline points="308.18,190.75 308.62,189.89 309.07,190.73 309.52,191.03 309.97,190.72 310.42,190.67 310.87,190.58 311.31,190.64 311.76,190.93 312.21,190.62 312.66,190.43 313.11,191.02 313.56,189.91 314.01,190.00 314.45,191.16 314.90,190.68 315.35,190.23 315.80,190.12 316.25,189.97 316.70,191.17 317.14,190.93 317.59,190.73 318.04,190.38 318.49,190.92 318.94,190.42 319.39,190.41 319.84,190.32 320.28,190.98 320.73,190.49 321.18,190.53 321.63,190.69 322.08,190.12 322.53,190.65 322.98,190.07 323.42,190.75 323.87,189.98 324.32,190.00 324.77,190.82 325.22,190.43 325.67,190.44 326.11,190.86 326.56,190.28 327.01,190.34" fill="none" stroke="#3b7fc0" stroke-width="3.0" stroke-linejoin="round" stroke-linecap="round" />
<polyline points="325.67,190.26 326.11,189.69 326.56,189.15 327.01,188.91 327.46,188.60 327.91,187.80 328.36,187.01 328.81,185.57 329.25,184.22 329.70,183.05 330.15,182.26 330.60,180.79 331.05,180.26 331.50,179.79 331.95,179.16 332.39,178.68 332.84,178.26 333.29,177.75 333.74,177.14 334.19,176.61 334.64,176.64 335.08,175.47 335.53,175.96 335.98,175.84 336.43,176.41 336.88,176.45 337.33,176.87 337.78,176.83 338.22,177.26 338.67,177.85 339.12,178.36 339.57,178.78 340.02,179.55 340.47,180.05 340.92,180.64 341.36,180.95 341.81,181.64 342.26,182.40 342.71,182.66 343.16,183.12 343.61,183.44 344.05,184.17 344.50,184.38 344.95,184.41 345.40,185.06 345.85,185.25 346.30,185.23 346.75,185.45 347.19,185.35 347.64,185.37 348.09,185.30 348.54,184.85 348.99,184.83 349.44,184.65 349.89,184.21 350.33,183.83 350.78,183.35 351.23,182.82 351.68,182.22 352.13,182.23 352.58,181.57 353.02,181.32 353.47,180.46 353.92,179.90 354.37,179.59 354.82,179.13 355.27,178.67 355.72,178.31 356.16,177.53 356.61,176.94 357.06,177.09 357.51,176.33 357.96,176.37 358.41,176.37 358.86,175.89 359.30,175.76 359.75,175.78 360.20,175.90 360.65,175.63 361.10,176.06 361.55,176.06 361.99,176.26 362.44,176.75 362.89,177.19 363.34,177.49 363.79,177.62 364.24,177.88 364.69,178.65 365.13,178.91 365.58,178.99 366.03,180.00 366.48,180.10 366.93,180.60 367.38,181.01 367.83,181.86 368.27,182.02 368.72,182.76 369.17,182.73 369.62,183.50 370.07,183.68 370.52,184.22 370.96,184.37 371.41,184.92 371.86,184.85 372.31,184.99 372.76,185.23 373.21,185.06 373.66,185.31 374.10,185.25 374.55,185.25 375.00,184.94 375.45,185.23 375.90,185.00 376.35,184.79 376.80,184.41 377.24,184.19 377.69,183.79 378.14,183.54 378.59,183.31 379.04,182.85 379.49,182.36 379.93,182.39 380.38,181.34 380.83,181.22 381.28,180.74 381.73,180.19 382.18,179.82 382.63,179.58 383.07,178.95 383.52,178.27 383.97,177.94 384.42,177.53 384.87,177.48 385.32,177.11 385.77,176.61 386.21,176.29 386.66,176.31 387.11,176.30 387.56,176.32 388.01,175.67 388.46,176.10 388.90,175.77 389.35,175.72 389.80,175.42 390.25,176.06 390.70,176.30 391.15,176.44 391.60,176.71 392.04,176.88 392.49,177.35 392.94,177.98 393.39,178.63 393.84,178.67 394.29,179.30 394.74,179.43 395.18,180.37 395.63,180.61 396.08,181.27 396.53,181.78 396.98,181.83 397.43,182.54 397.87,183.04 398.32,183.30 398.77,183.94 399.22,184.22 399.67,184.57 400.12,184.40 400.57,184.90 401.01,185.03 401.46,185.08 401.91,185.37 402.36,185.39 402.81,185.61 403.26,185.17 403.71,185.07 404.15,184.99 404.60,184.47 405.05,184.68 405.50,183.96 405.95,183.88 406.40,183.43 406.84,182.82 407.29,182.08 407.74,182.01 408.19,181.47 408.64,180.99 409.09,179.92 409.54,179.65 409.98,179.17 410.43,178.40 410.88,178.23 411.33,178.19 411.78,177.51 412.23,177.26 412.68,176.39 413.12,176.69 413.57,176.17 414.02,176.12 414.47,175.99 414.92,175.84 415.37,175.86 415.81,175.99 416.26,176.17 416.71,176.20 417.16,176.45 417.61,176.64 418.06,176.73 418.51,177.08 418.95,177.31 419.40,177.80 419.85,177.83 420.30,178.71 420.75,179.20 421.20,179.31 421.65,180.08 422.09,180.41 422.54,180.74 422.99,181.40 423.44,181.91 423.89,182.14 424.34,182.69 424.78,183.25 425.23,183.75 425.68,183.98 426.13,184.52 426.58,184.68 427.03,184.97 427.48,184.94 427.92,185.02 428.37,185.38 428.82,185.42 429.27,185.56 429.72,185.58 430.17,185.34 430.62,185.05 431.06,184.89 431.51,184.65 431.96,184.54 432.41,184.65 432.86,183.69 433.31,183.25 433.75,182.91 434.20,182.49 434.65,182.00 435.10,181.26 435.55,181.18 436.00,180.48 436.45,180.12 436.89,179.66 437.34,179.32 437.79,178.89 438.24,178.58 438.69,177.87 439.14,177.62 439.59,177.41 440.03,177.01 440.48,176.80 440.93,176.08 441.38,176.19 441.83,175.98 442.28,176.10 442.72,176.01 443.17,175.66 443.62,175.92 444.07,175.94 444.52,175.81 444.97,175.96 445.42,176.44 445.86,176.75 446.31,177.12 446.76,177.56 447.21,177.57 447.66,178.53 448.11,178.79 448.56,179.56 449.00,179.93 449.45,180.14 449.90,180.62 450.35,181.13 450.80,181.73 451.25,182.27 451.69,182.69 452.14,183.10 452.59,183.26 453.04,183.58 453.49,184.10 453.94,184.57 454.39,184.90 454.83,184.91 455.28,185.18 455.73,185.57 456.18,185.11 456.63,185.37 457.08,185.39 457.53,185.38 457.97,185.22 458.42,184.69 458.87,184.71 459.32,184.19 459.77,183.71 460.22,183.06 460.66,182.80 461.11,182.40 461.56,181.93 462.01,181.16 462.46,180.57 462.91,180.25 463.36,179.52 463.80,179.09 464.25,178.82 464.70,178.22 465.15,177.46 465.60,176.93 466.05,176.69 466.50,176.53 466.94,176.36 467.39,175.95 467.84,175.85 468.29,176.11 468.74,175.72 469.19,175.99 469.63,175.83 470.08,175.97 470.53,176.08 470.98,176.20 471.43,176.48 471.88,177.02 472.33,177.29 472.77,177.24 473.22,177.66 473.67,178.36 474.12,178.80 474.57,178.69 475.02,178.87 475.47,179.51 475.91,180.11 476.36,180.45 476.81,181.37 477.26,181.50 477.71,181.57 478.16,182.00 478.60,182.90 479.05,182.72 479.50,183.19 479.95,183.46 480.40,183.97 480.85,184.22 481.30,184.66 481.74,184.65 482.19,184.75 482.64,185.23 483.09,185.14 483.54,185.38 483.99,185.17 484.44,185.20 484.88,185.74 485.33,185.19 485.78,184.96 486.23,185.06 486.68,184.78 487.13,184.50 487.57,184.36 488.02,183.84 488.47,183.17 488.92,182.94 489.37,182.33 489.82,181.96 490.27,181.45 490.71,181.14 491.16,180.54 491.61,179.84 492.06,179.44 492.51,179.15 492.96,178.86 493.41,178.46 493.85,177.84 494.30,177.41 494.75,177.44 495.20,176.77 495.65,176.47 496.10,176.24 496.54,176.20 496.99,175.57 497.44,175.72 497.89,176.06 498.34,175.97 498.79,175.79 499.24,175.99 499.68,176.26 500.13,176.56 500.58,176.93 501.03,177.35 501.48,177.88 501.93,178.08 502.38,179.16 502.82,179.35 503.27,179.57 503.72,180.48 504.17,181.13 504.62,181.18 505.07,181.88 505.51,182.63 505.96,183.22 506.41,183.64 506.86,184.11 507.31,184.49 507.76,184.92 508.21,184.99 508.65,185.41 509.10,185.79 509.55,185.80 510.00,185.62" fill="none" stroke="#2c70b4" stroke-width="5.0" stroke-linejoin="round" stroke-linecap="round" />
<polyline points="325.67,190.26 326.11,189.69 326.56,189.15 327.01,188.91 327.46,188.60 327.91,187.80 328.36,187.01 328.81,185.57 329.25,184.22 329.70,183.05 330.15,182.26 330.60,180.79 331.05,180.26 331.50,179.79 331.95,179.16 332.39,178.68 332.84,178.26 333.29,177.75 333.74,177.14 334.19,176.61 334.64,176.64 335.08,175.47 335.53,175.96 335.98,175.84 336.43,176.41 336.88,176.45 337.33,176.87 337.78,176.83 338.22,177.26 338.67,177.85 339.12,178.36 339.57,178.78 340.02,179.55 340.47,180.05 340.92,180.64 341.36,180.95 341.81,181.64 342.26,182.40 342.71,182.66 343.16,183.12 343.61,183.44 344.05,184.17 344.50,184.38 344.95,184.41 345.40,185.06 345.85,185.25 346.30,185.23 346.75,185.45 347.19,185.35 347.64,185.37 348.09,185.30 348.54,184.85 348.99,184.83 349.44,184.65 349.89,184.21 350.33,183.83 350.78,183.35 351.23,182.82 351.68,182.22 352.13,182.23 352.58,181.57 353.02,181.32 353.47,180.46 353.92,179.90 354.37,179.59 354.82,179.13 355.27,178.67 355.72,178.31 356.16,177.53 356.61,176.94 357.06,177.09 357.51,176.33 357.96,176.37 358.41,176.37 358.86,175.89 359.30,175.76 359.75,175.78 360.20,175.90 360.65,175.63 361.10,176.06 361.55,176.06 361.99,176.26 362.44,176.75 362.89,177.19 363.34,177.49 363.79,177.62 364.24,177.88 364.69,178.65 365.13,178.91 365.58,178.99 366.03,180.00 366.48,180.10 366.93,180.60 367.38,181.01 367.83,181.86 368.27,182.02 368.72,182.76 369.17,182.73 369.62,183.50 370.07,183.68 370.52,184.22 370.96,184.37 371.41,184.92 371.86,184.85 372.31,184.99 372.76,185.23 373.21,185.06 373.66,185.31 374.10,185.25 374.55,185.25 375.00,184.94 375.45,185.23 375.90,185.00 376.35,184.79 376.80,184.41 377.24,184.19 377.69,183.79 378.14,183.54 378.59,183.31 379.04,182.85 379.49,182.36 379.93,182.39 380.38,181.34 380.83,181.22 381.28,180.74 381.73,180.19 382.18,179.82 382.63,179.58 383.07,178.95 383.52,178.27 383.97,177.94 384.42,177.53 384.87,177.48 385.32,177.11 385.77,176.61 386.21,176.29 386.66,176.31 387.11,176.30 387.56,176.32 388.01,175.67 388.46,176.10 388.90,175.77 389.35,175.72 389.80,175.42 390.25,176.06 390.70,176.30 391.15,176.44 391.60,176.71 392.04,176.88 392.49,177.35 392.94,177.98 393.39,178.63 393.84,178.67 394.29,179.30 394.74,179.43 395.18,180.37 395.63,180.61 396.08,181.27 396.53,181.78 396.98,181.83 397.43,182.54 397.87,183.04 398.32,183.30 398.77,183.94 399.22,184.22 399.67,184.57 400.12,184.40 400.57,184.90 401.01,185.03 401.46,185.08 401.91,185.37 402.36,185.39 402.81,185.61 403.26,185.17 403.71,185.07 404.15,184.99 404.60,184.47 405.05,184.68 405.50,183.96 405.95,183.88 406.40,183.43 406.84,182.82 407.29,182.08 407.74,182.01 408.19,181.47 408.64,180.99 409.09,179.92 409.54,179.65 409.98,179.17 410.43,178.40 410.88,178.23 411.33,178.19 411.78,177.51 412.23,177.26 412.68,176.39 413.12,176.69 413.57,176.17 414.02,176.12 414.47,175.99 414.92,175.84 415.37,175.86 415.81,175.99 416.26,176.17 416.71,176.20 417.16,176.45 417.61,176.64 418.06,176.73 418.51,177.08 418.95,177.31 419.40,177.80 419.85,177.83 420.30,178.71 420.75,179.20 421.20,179.31 421.65,180.08 422.09,180.41 422.54,180.74 422.99,181.40 423.44,181.91 423.89,182.14 424.34,182.69 424.78,183.25 425.23,183.75 425.68,183.98 426.13,184.52 426.58,184.68 427.03,184.97 427.48,184.94 427.92,185.02 428.37,185.38 428.82,185.42 429.27,185.56 429.72,185.58 430.17,185.34 430.62,185.05 431.06,184.89 431.51,184.65 431.96,184.54 432.41,184.65 432.86,183.69 433.31,183.25 433.75,182.91 434.20,182.49 434.65,182.00 435.10,181.26 435.55,181.18 436.00,180.48 436.45,180.12 436.89,179.66 437.34,179.32 437.79,178.89 438.24,178.58 438.69,177.87 439.14,177.62 439.59,177.41 440.03,177.01 440.48,176.80 440.93,176.08 441.38,176.19 441.83,175.98 442.28,176.10 442.72,176.01 443.17,175.66 443.62,175.92 444.07,175.94 444.52,175.81 444.97,175.96 445.42,176.44 445.86,176.75 446.31,177.12 446.76,177.56 447.21,177.57 447.66,178.53 448.11,178.79 448.56,179.56 449.00,179.93 449.45,180.14 449.90,180.62 450.35,181.13 450.80,181.73 451.25,182.27 451.69,182.69 452.14,183.10 452.59,183.26 453.04,183.58 453.49,184.10 453.94,184.57 454.39,184.90 454.83,184.91 455.28,185.18 455.73,185.57 456.18,185.11 456.63,185.37 457.08,185.39 457.53,185.38 457.97,185.22 458.42,184.69 458.87,184.71 459.32,184.19 459.77,183.71 460.22,183.06 460.66,182.80 461.11,182.40 461.56,181.93 462.01,181.16 462.46,180.57 462.91,180.25 463.36,179.52 463.80,179.09 464.25,178.82 464.70,178.22 465.15,177.46 465.60,176.93 466.05,176.69 466.50,176.53 466.94,176.36 467.39,175.95 467.84,175.85 468.29,176.11 468.74,175.72 469.19,175.99 469.63,175.83 470.08,175.97 470.53,176.08 470.98,176.20 471.43,176.48 471.88,177.02 472.33,177.29 472.77,177.24 473.22,177.66 473.67,178.36 474.12,178.80 474.57,178.69 475.02,178.87 475.47,179.51 475.91,180.11 476.36,180.45 476.81,181.37 477.26,181.50 477.71,181.57 478.16,182.00 478.60,182.90 479.05,182.72 479.50,183.19 479.95,183.46 480.40,183.97 480.85,184.22 481.30,184.66 481.74,184.65 482.19,184.75 482.64,185.23 483.09,185.14 483.54,185.38 483.99,185.17 484.44,185.20 484.88,185.74 485.33,185.19 485.78,184.96 486.23,185.06 486.68,184.78 487.13,184.50 487.57,184.36 488.02,183.84 488.47,183.17 488.92,182.94 489.37,182.33 489.82,181.96 490.27,181.45 490.71,181.14 491.16,180.54 491.61,179.84 492.06,179.44 492.51,179.15 492.96,178.86 493.41,178.46 493.85,177.84 494.30,177.41 494.75,177.44 495.20,176.77 495.65,176.47 496.10,176.24 496.54,176.20 496.99,175.57 497.44,175.72 497.89,176.06 498.34,175.97 498.79,175.79 499.24,175.99 499.68,176.26 500.13,176.56 500.58,176.93 501.03,177.35 501.48,177.88 501.93,178.08 502.38,179.16 502.82,179.35 503.27,179.57 503.72,180.48 504.17,181.13 504.62,181.18 505.07,181.88 505.51,182.63 505.96,183.22 506.41,183.64 506.86,184.11 507.31,184.49 507.76,184.92 508.21,184.99 508.65,185.41 509.10,185.79 509.55,185.80 510.00,185.62" fill="none" stroke="#66b2e6" stroke-width="1.8" stroke-linejoin="round" stroke-linecap="round" />
<circle cx="326.12" cy="189.69" r="1.8" fill="#fff" stroke="#4a9ad8" stroke-width="0.9"/>
<circle cx="327.68" cy="188.20" r="1.8" fill="#fff" stroke="#4a9ad8" stroke-width="0.9"/>
<circle cx="329.25" cy="184.22" r="1.8" fill="#fff" stroke="#4a9ad8" stroke-width="0.9"/>
<circle cx="330.82" cy="180.53" r="1.8" fill="#fff" stroke="#4a9ad8" stroke-width="0.9"/>
<circle cx="332.39" cy="178.68" r="1.8" fill="#fff" stroke="#4a9ad8" stroke-width="0.9"/>
<circle cx="333.96" cy="176.87" r="1.8" fill="#fff" stroke="#4a9ad8" stroke-width="0.9"/>
<polyline points="329.70,186.15 330.15,182.00 330.60,175.10 331.05,170.72 331.50,166.32 331.95,164.71 332.39,162.56 332.84,160.50 333.29,159.88 333.74,157.72 334.19,156.62 334.64,156.20 335.08,157.11 335.53,157.74 335.98,157.14 336.43,157.66 336.88,157.77 337.33,159.02 337.78,158.54 338.22,159.73 338.67,159.50 339.12,160.90 339.57,160.33 340.02,161.41 340.47,161.47 340.92,161.12 341.36,162.47 341.81,162.02 342.26,160.40 342.71,161.89 343.16,161.13 343.61,160.31 344.05,159.53 344.50,160.19 344.95,159.53 345.40,159.84 345.85,159.15 346.30,158.14 346.75,158.25 347.19,158.22 347.64,157.84 348.09,157.89 348.54,157.85 348.99,158.12 349.44,158.46 349.89,157.65 350.33,158.63 350.78,157.59 351.23,157.10 351.68,157.49 352.13,157.18 352.58,158.97 353.02,158.41 353.47,159.05 353.92,159.10 354.37,159.68 354.82,159.51 355.27,158.53 355.72,158.67 356.16,158.47 356.61,158.54 357.06,158.74 357.51,159.55 357.96,159.19 358.41,158.74 358.86,158.45 359.30,159.22 359.75,159.23 360.20,159.15 360.65,158.07 361.10,158.54 361.55,158.94 361.99,159.14 362.44,158.51 362.89,159.57 363.34,158.93 363.79,159.40 364.24,159.85 364.69,160.02 365.13,160.55 365.58,159.85 366.03,161.90 366.48,162.05 366.93,163.10 367.38,163.62 367.83,162.13 368.27,161.48 368.72,162.59 369.17,161.63 369.62,160.48 370.07,160.41 370.52,161.11 370.96,158.90 371.41,159.10 371.86,158.43 372.31,159.19 372.76,158.26 373.21,158.18 373.66,159.07 374.10,158.46 374.55,159.02 375.00,158.95 375.45,159.16 375.90,158.91 376.35,159.03 376.80,158.10 377.24,158.80 377.69,159.25 378.14,157.99 378.59,158.40 379.04,158.17 379.49,158.70 379.93,158.31 380.38,158.70 380.83,159.13 381.28,158.59 381.73,158.56 382.18,158.56 382.63,158.20 383.07,159.49 383.52,158.46 383.97,159.01 384.42,158.74 384.87,158.37 385.32,158.56 385.77,158.92 386.21,158.20 386.66,158.60 387.11,158.10 387.56,157.94 388.01,158.73 388.46,159.10 388.90,158.51 389.35,158.13 389.80,158.38 390.25,159.12 390.70,159.38 391.15,159.00 391.60,159.00 392.04,158.22 392.49,158.49 392.94,158.09 393.39,158.57 393.84,157.69 394.29,158.52 394.74,158.24 395.18,158.72 395.63,158.29 396.08,157.97 396.53,158.12 396.98,157.87 397.43,158.81 397.87,158.27 398.32,157.65 398.77,158.37 399.22,158.57 399.67,158.60 400.12,158.74 400.57,158.40 401.01,157.78 401.46,158.24 401.91,158.47 402.36,158.85 402.81,159.02 403.26,157.26 403.71,158.67 404.15,158.38 404.60,158.67 405.05,158.34 405.50,158.63 405.95,158.36 406.40,157.68 406.84,158.77 407.29,158.13 407.74,158.42 408.19,158.03 408.64,158.72 409.09,158.17 409.54,158.86 409.98,159.27 410.43,159.01 410.88,158.83 411.33,158.91 411.78,158.51 412.23,157.80 412.68,158.91 413.12,158.12 413.57,158.26 414.02,158.68 414.47,158.79 414.92,158.11 415.37,158.09 415.81,158.49 416.26,158.39 416.71,158.32 417.16,158.96 417.61,158.26 418.06,158.16 418.51,157.44 418.95,158.94 419.40,158.74 419.85,158.27 420.30,158.60 420.75,158.51 421.20,158.30 421.65,158.45 422.09,158.33 422.54,158.09 422.99,159.11 423.44,158.04 423.89,159.42 424.34,157.48 424.78,157.86 425.23,158.62 425.68,157.82 426.13,158.39 426.58,158.11 427.03,157.95 427.48,158.16 427.92,158.33 428.37,158.03 428.82,158.43 429.27,158.53 429.72,158.81 430.17,159.24 430.62,157.57 431.06,157.97 431.51,159.05 431.96,158.17 432.41,158.27 432.86,159.45 433.31,158.79 433.75,158.43 434.20,157.54 434.65,157.86 435.10,157.78 435.55,158.25 436.00,157.92 436.45,158.99 436.89,158.12 437.34,158.07 437.79,159.05 438.24,158.31 438.69,157.69 439.14,157.50 439.59,157.76 440.03,158.80 440.48,158.51 440.93,158.72 441.38,157.87 441.83,158.89 442.28,159.00 442.72,159.29 443.17,158.40 443.62,158.29 444.07,158.80 444.52,158.89 444.97,158.61 445.42,157.87 445.86,159.19 446.31,158.56 446.76,158.44 447.21,158.37 447.66,157.94 448.11,158.16 448.56,158.43 449.00,157.86 449.45,158.02 449.90,158.44 450.35,158.47 450.80,159.18 451.25,158.54 451.69,158.99 452.14,159.17 452.59,158.75 453.04,159.47 453.49,159.06 453.94,158.89 454.39,158.48 454.83,158.80 455.28,158.46 455.73,157.88 456.18,158.26 456.63,159.23 457.08,159.54 457.53,159.12 457.97,159.11 458.42,159.66 458.87,159.53 459.32,159.54 459.77,159.00 460.22,158.01 460.66,157.87 461.11,159.22 461.56,158.94 462.01,159.40 462.46,159.53 462.91,158.77 463.36,158.72 463.80,159.05 464.25,158.44 464.70,158.91 465.15,158.22 465.60,159.00 466.05,158.34 466.50,158.85 466.94,158.69 467.39,158.45 467.84,159.41 468.29,159.12 468.74,158.79 469.19,158.89 469.63,158.63 470.08,159.15 470.53,159.40 470.98,158.80 471.43,158.61 471.88,159.14 472.33,158.15 472.77,158.40 473.22,158.32 473.67,158.35 474.12,159.15 474.57,157.69 475.02,159.07 475.47,158.53 475.91,158.35 476.36,158.54 476.81,158.60 477.26,159.08 477.71,158.87 478.16,158.66 478.60,158.03 479.05,158.98 479.50,158.32 479.95,158.43 480.40,158.60 480.85,158.90 481.30,158.70 481.74,159.47 482.19,158.56 482.64,158.45 483.09,158.85 483.54,158.34 483.99,158.43 484.44,158.94 484.88,158.17 485.33,158.83 485.78,157.39 486.23,159.06 486.68,158.95 487.13,158.86 487.57,158.43 488.02,157.98 488.47,158.50 488.92,158.73 489.37,157.60 489.82,158.03 490.27,158.66 490.71,158.58 491.16,159.27 491.61,158.50 492.06,157.68 492.51,159.08 492.96,159.20 493.41,158.44 493.85,159.68 494.30,157.82 494.75,159.24 495.20,158.85 495.65,158.58 496.10,157.91 496.54,158.30 496.99,159.42 497.44,159.32 497.89,158.40 498.34,159.52 498.79,158.64 499.24,158.90 499.68,158.11 500.13,157.91 500.58,159.72 501.03,158.29 501.48,158.18 501.93,158.87 502.38,158.79 502.82,159.08 503.27,158.66 503.72,158.29 504.17,157.84 504.62,157.79 505.07,158.63 505.51,158.90 505.96,158.00 506.41,159.84 506.86,159.18 507.31,158.18 507.76,157.40 508.21,158.87 508.65,158.44 509.10,159.04 509.55,158.53 510.00,158.53" fill="none" stroke="#e3df58" stroke-width="4.8" stroke-linejoin="round" stroke-linecap="round" />
<polyline points="329.25,183.49 329.70,175.68 330.15,168.58 330.60,160.97 331.05,153.92 331.50,152.09 331.95,149.30 332.39,146.76 332.84,145.19 333.29,144.40 333.74,145.00 334.19,145.73 334.64,146.10 335.08,146.95 335.53,147.92 335.98,148.05 336.43,149.00 336.88,150.55 337.33,151.46 337.78,152.49 338.22,153.12 338.67,153.75 339.12,155.48 339.57,155.87 340.02,156.67 340.47,156.96 340.92,156.99 341.36,158.18 341.81,158.74 342.26,157.90 342.71,158.27 343.16,156.59 343.61,157.11 344.05,156.40 344.50,155.58 344.95,154.96 345.40,154.58 345.85,153.81 346.30,152.88 346.75,152.94 347.19,151.72 347.64,152.12 348.09,153.15 348.54,151.84 348.99,152.98 349.44,152.22 349.89,151.56 350.33,152.20 350.78,153.28 351.23,153.34 351.68,153.20 352.13,152.81 352.58,153.89 353.02,153.32 353.47,153.80 353.92,154.09 354.37,154.21 354.82,153.52 355.27,154.84 355.72,154.68 356.16,153.85 356.61,153.80 357.06,154.72 357.51,154.54 357.96,154.62 358.41,153.89 358.86,154.36 359.30,153.48 359.75,153.71 360.20,153.88 360.65,153.87 361.10,153.70 361.55,153.54 361.99,153.84 362.44,153.71 362.89,153.46 363.34,153.78 363.79,153.32 364.24,153.76 364.69,154.00 365.13,153.60 365.58,152.99 366.03,153.04 366.48,154.31 366.93,153.53 367.38,153.86 367.83,153.79 368.27,153.80 368.72,153.76 369.17,153.88 369.62,153.79 370.07,153.59 370.52,154.17 370.96,154.19 371.41,154.15 371.86,154.16 372.31,153.47 372.76,154.17 373.21,153.76 373.66,153.71 374.10,153.45 374.55,153.74 375.00,153.33 375.45,153.79 375.90,153.68 376.35,153.48 376.80,154.40 377.24,153.65 377.69,153.21 378.14,153.79 378.59,153.95 379.04,153.08 379.49,153.83 379.93,153.38 380.38,154.86 380.83,153.87 381.28,154.13 381.73,153.78 382.18,153.46 382.63,154.02 383.07,154.06 383.52,155.13 383.97,153.68 384.42,153.47 384.87,153.96 385.32,154.23 385.77,153.90 386.21,153.64 386.66,153.81 387.11,153.23 387.56,154.32 388.01,154.66 388.46,153.91 388.90,153.61 389.35,154.32 389.80,154.14 390.25,154.41 390.70,154.67 391.15,154.47 391.60,155.02 392.04,154.07 392.49,154.00 392.94,153.84 393.39,154.54 393.84,154.47 394.29,154.90 394.74,154.81 395.18,153.86 395.63,153.08 396.08,154.66 396.53,154.39 396.98,153.85 397.43,154.52 397.87,154.00 398.32,154.36 398.77,154.36 399.22,153.87 399.67,154.34 400.12,154.75 400.57,153.90 401.01,154.23 401.46,154.46 401.91,154.57 402.36,154.00 402.81,154.54 403.26,154.19 403.71,153.84 404.15,154.29 404.60,153.80 405.05,154.81 405.50,154.00 405.95,154.04 406.40,153.49 406.84,154.25 407.29,153.89 407.74,154.33 408.19,154.70 408.64,154.63 409.09,154.56 409.54,153.96 409.98,154.59 410.43,154.26 410.88,153.91 411.33,153.78 411.78,153.90 412.23,153.68 412.68,154.76 413.12,154.50 413.57,154.17 414.02,153.85 414.47,154.10 414.92,154.62 415.37,154.39 415.81,154.99 416.26,153.99 416.71,155.05 417.16,154.24 417.61,153.89 418.06,153.97 418.51,155.00 418.95,154.26 419.40,154.49 419.85,154.47 420.30,153.69 420.75,154.24 421.20,154.95 421.65,154.81 422.09,154.08 422.54,154.28 422.99,154.84 423.44,155.07 423.89,154.61 424.34,154.57 424.78,154.06 425.23,154.65 425.68,154.13 426.13,153.91 426.58,155.06 427.03,154.65 427.48,153.79 427.92,154.60 428.37,154.43 428.82,154.04 429.27,154.74 429.72,154.61 430.17,155.12 430.62,154.22 431.06,154.65 431.51,154.60 431.96,155.51 432.41,154.07 432.86,154.18 433.31,154.79 433.75,153.97 434.20,155.47 434.65,154.50 435.10,155.17 435.55,153.37 436.00,155.55 436.45,154.98 436.89,154.80 437.34,154.16 437.79,154.15 438.24,154.34 438.69,154.60 439.14,153.63 439.59,154.80 440.03,154.37 440.48,153.79 440.93,155.01 441.38,154.84 441.83,154.05 442.28,154.32 442.72,155.04 443.17,154.49 443.62,153.72 444.07,154.61 444.52,154.18 444.97,154.46 445.42,154.79 445.86,153.85 446.31,154.11 446.76,154.02 447.21,154.57 447.66,154.47 448.11,154.42 448.56,154.33 449.00,154.65 449.45,154.72 449.90,153.98 450.35,154.97 450.80,154.70 451.25,154.67 451.69,154.73 452.14,155.01 452.59,154.83 453.04,154.19 453.49,154.67 453.94,154.83 454.39,153.84 454.83,155.07 455.28,154.10 455.73,154.38 456.18,155.08 456.63,154.69 457.08,154.69 457.53,154.00 457.97,154.16 458.42,154.65 458.87,155.02 459.32,155.23 459.77,154.61 460.22,155.11 460.66,154.61 461.11,154.63 461.56,154.39 462.01,154.14 462.46,154.50 462.91,154.36 463.36,154.62 463.80,154.13 464.25,154.22 464.70,153.90 465.15,153.99 465.60,154.85 466.05,155.16 466.50,154.30 466.94,154.09 467.39,154.84 467.84,153.95 468.29,154.53 468.74,154.60 469.19,154.42 469.63,155.15 470.08,155.25 470.53,154.72 470.98,155.06 471.43,154.59 471.88,154.59 472.33,155.64 472.77,154.92 473.22,154.38 473.67,155.55 474.12,154.74 474.57,155.15 475.02,155.41 475.47,154.15 475.91,154.17 476.36,154.78 476.81,154.82 477.26,154.05 477.71,154.13 478.16,154.62 478.60,154.27 479.05,154.58 479.50,154.75 479.95,154.37 480.40,154.80 480.85,154.39 481.30,154.73 481.74,154.82 482.19,154.87 482.64,154.45 483.09,154.26 483.54,154.47 483.99,155.00 484.44,154.39 484.88,155.01 485.33,155.11 485.78,154.73 486.23,154.32 486.68,154.37 487.13,154.42 487.57,154.09 488.02,154.30 488.47,154.80 488.92,154.33 489.37,154.76 489.82,154.49 490.27,154.42 490.71,154.68 491.16,155.26 491.61,154.71 492.06,154.78 492.51,154.70 492.96,154.83 493.41,155.11 493.85,155.31 494.30,154.39 494.75,154.34 495.20,154.50 495.65,154.67 496.10,153.86 496.54,154.39 496.99,154.65 497.44,154.32 497.89,154.69 498.34,154.37 498.79,154.54 499.24,154.44 499.68,154.63 500.13,154.84 500.58,154.45 501.03,154.20 501.48,155.03 501.93,154.87 502.38,155.10 502.82,154.30 503.27,154.75 503.72,154.30 504.17,154.98 504.62,154.32 505.07,154.89 505.51,154.84 505.96,154.44 506.41,154.82 506.86,154.90 507.31,154.30 507.76,154.68 508.21,154.16 508.65,153.63 509.10,154.88 509.55,154.79 510.00,155.27" fill="none" stroke="#1c8a5a" stroke-width="3.0" stroke-linejoin="round" stroke-linecap="round" />
<polyline points="331.05,99.81 331.50,89.17 331.95,79.53 332.39,81.22 332.84,85.16 333.29,89.83 333.74,91.91 334.19,90.88 334.64,92.09 335.08,92.67 335.53,94.05 335.98,93.98 336.43,94.63 336.88,94.44 337.33,94.63 337.78,94.50 338.22,94.15 338.67,94.64 339.12,96.47 339.57,95.19 340.02,95.16 340.47,94.80 340.92,95.22 341.36,95.78 341.81,96.02 342.26,96.02 342.71,96.43 343.16,95.62 343.61,96.22 344.05,96.63 344.50,96.29 344.95,95.75 345.40,96.91 345.85,96.87 346.30,97.08 346.75,97.64 347.19,97.49 347.64,97.81 348.09,97.32 348.54,97.55 348.99,97.59 349.44,98.64 349.89,98.05 350.33,99.28 350.78,99.18 351.23,98.75 351.68,99.06 352.13,99.40 352.58,99.18 353.02,99.94 353.47,100.81 353.92,101.01 354.37,101.47 354.82,101.15 355.27,101.77 355.72,101.82 356.16,102.08 356.61,102.47 357.06,100.47 357.51,101.25 357.96,102.71 358.41,101.55 358.86,102.10 359.30,102.96 359.75,102.14 360.20,102.06 360.65,102.02 361.10,101.92 361.55,103.04 361.99,102.83 362.44,102.67 362.89,102.93 363.34,103.21 363.79,103.55 364.24,103.21 364.69,104.62 365.13,104.94 365.58,103.57 366.03,104.39 366.48,104.24 366.93,104.84 367.38,105.28 367.83,105.46 368.27,105.30 368.72,105.70 369.17,105.60 369.62,105.68 370.07,105.29 370.52,105.33 370.96,104.95 371.41,106.08 371.86,105.78 372.31,105.33 372.76,105.68 373.21,107.10 373.66,105.84 374.10,106.12 374.55,106.45 375.00,106.55 375.45,106.83 375.90,106.06 376.35,106.44 376.80,106.83 377.24,106.55 377.69,106.80 378.14,107.82 378.59,108.09 379.04,108.23 379.49,107.54 379.93,108.06 380.38,107.61 380.83,108.07 381.28,108.55 381.73,109.17 382.18,108.79 382.63,107.67 383.07,109.15 383.52,109.27 383.97,109.02 384.42,108.29 384.87,108.97 385.32,109.49 385.77,109.26 386.21,109.05 386.66,108.97 387.11,108.55 387.56,107.88 388.01,108.48 388.46,108.88 388.90,109.26 389.35,109.70 389.80,109.11 390.25,108.85 390.70,109.15 391.15,109.69 391.60,109.40 392.04,109.93 392.49,110.00 392.94,110.13 393.39,110.09 393.84,110.27 394.29,109.85 394.74,110.45 395.18,110.60 395.63,110.17 396.08,110.44 396.53,110.34 396.98,111.35 397.43,110.46 397.87,111.19 398.32,111.79 398.77,111.45 399.22,112.06 399.67,112.03 400.12,111.83 400.57,111.25 401.01,112.41 401.46,111.69 401.91,112.01 402.36,111.19 402.81,111.88 403.26,111.72 403.71,111.37 404.15,112.58 404.60,112.23 405.05,112.78 405.50,112.48 405.95,111.94 406.40,112.19 406.84,111.94 407.29,112.36 407.74,112.53 408.19,112.31 408.64,112.72 409.09,112.88 409.54,113.17 409.98,112.54 410.43,112.34 410.88,113.20 411.33,112.92 411.78,113.86 412.23,113.42 412.68,112.90 413.12,113.62 413.57,112.88 414.02,113.35 414.47,113.06 414.92,113.56 415.37,114.04 415.81,113.44 416.26,113.15 416.71,113.79 417.16,113.41 417.61,113.97 418.06,113.84 418.51,113.11 418.95,113.74 419.40,114.19 419.85,113.49 420.30,113.73 420.75,114.01 421.20,113.44 421.65,115.15 422.09,113.51 422.54,112.90 422.99,113.68 423.44,114.74 423.89,113.23 424.34,112.71 424.78,113.66 425.23,114.46 425.68,114.31 426.13,114.09 426.58,113.98 427.03,113.55 427.48,113.89 427.92,115.26 428.37,114.38 428.82,114.35 429.27,113.44 429.72,114.64 430.17,115.06 430.62,114.59 431.06,114.35 431.51,115.39 431.96,114.03 432.41,114.64 432.86,114.22 433.31,114.31 433.75,114.40 434.20,114.01 434.65,113.90 435.10,114.90 435.55,114.75 436.00,114.23 436.45,114.64" fill="none" stroke="#e0a22a" stroke-width="4.2" stroke-linejoin="round" stroke-linecap="round" />
<polyline points="331.05,103.86 331.50,98.10 331.95,93.12 332.39,94.12 332.84,98.57 333.29,100.65 333.74,102.90 334.19,104.59 334.64,104.93 335.08,106.07 335.53,107.74 335.98,108.37 336.43,109.47 336.88,109.89 337.33,109.61 337.78,109.73 338.22,109.00 338.67,108.29 339.12,107.66 339.57,107.66 340.02,107.08 340.47,107.29 340.92,108.33 341.36,107.80 341.81,106.40 342.26,106.07 342.71,104.39 343.16,104.33 343.61,102.95 344.05,102.13 344.50,101.47 344.95,100.81 345.40,100.18 345.85,100.00 346.30,100.34 346.75,100.14 347.19,100.19 347.64,100.84 348.09,101.42 348.54,101.79 348.99,102.09 349.44,102.50 349.89,102.55 350.33,101.61 350.78,102.57 351.23,103.23 351.68,103.01 352.13,103.02 352.58,102.72 353.02,102.68 353.47,103.87 353.92,102.41 354.37,103.95 354.82,103.59 355.27,104.12 355.72,104.64 356.16,104.78 356.61,103.10 357.06,103.44 357.51,104.73 357.96,104.90 358.41,103.76 358.86,105.02 359.30,104.43 359.75,103.75 360.20,104.42 360.65,104.13 361.10,104.77 361.55,105.71 361.99,105.30 362.44,105.77 362.89,104.77 363.34,105.57 363.79,104.91 364.24,105.24 364.69,105.38 365.13,104.84 365.58,105.36 366.03,105.58 366.48,104.76 366.93,105.32 367.38,106.06 367.83,104.84 368.27,106.14 368.72,105.40 369.17,105.31 369.62,105.73 370.07,106.04 370.52,105.83 370.96,105.87 371.41,106.25 371.86,105.32 372.31,106.03 372.76,106.09 373.21,105.09 373.66,106.11 374.10,106.51 374.55,105.83 375.00,105.82 375.45,105.84 375.90,104.88 376.35,106.19 376.80,105.32 377.24,105.58 377.69,105.36 378.14,106.16 378.59,106.32 379.04,106.32 379.49,106.14 379.93,105.89 380.38,105.63 380.83,107.35 381.28,106.07 381.73,106.48 382.18,106.72 382.63,107.33 383.07,106.75 383.52,107.89 383.97,106.50 384.42,107.65 384.87,107.35 385.32,107.48 385.77,107.22 386.21,108.24 386.66,107.30 387.11,107.60 387.56,107.16 388.01,107.87 388.46,108.18 388.90,109.14 389.35,108.51 389.80,107.64 390.25,108.76 390.70,108.88 391.15,108.81 391.60,108.43 392.04,109.80 392.49,108.17 392.94,108.86 393.39,108.89 393.84,109.34 394.29,108.47 394.74,109.72 395.18,109.21 395.63,109.63 396.08,110.37 396.53,109.91 396.98,109.57 397.43,110.12 397.87,110.25 398.32,110.13 398.77,110.60 399.22,110.78 399.67,110.26 400.12,110.80 400.57,110.12 401.01,110.09 401.46,109.85 401.91,110.03 402.36,110.67 402.81,110.36 403.26,111.13 403.71,110.39 404.15,110.84 404.60,109.96 405.05,110.95 405.50,110.53 405.95,110.99 406.40,110.32 406.84,110.31 407.29,111.11 407.74,109.69 408.19,110.40 408.64,111.33 409.09,111.09 409.54,111.54 409.98,111.63 410.43,110.75 410.88,111.69 411.33,110.52 411.78,111.50 412.23,110.91 412.68,109.91 413.12,110.92 413.57,110.78 414.02,110.18 414.47,110.95 414.92,110.56 415.37,111.22 415.81,111.03 416.26,110.81 416.71,110.88 417.16,111.28 417.61,110.82 418.06,110.66 418.51,110.66 418.95,110.97 419.40,111.47 419.85,110.70 420.30,110.64 420.75,111.55 421.20,112.21 421.65,111.21 422.09,110.65 422.54,110.75 422.99,111.76 423.44,110.58 423.89,111.67 424.34,110.82 424.78,111.49 425.23,110.84 425.68,111.09 426.13,111.47 426.58,111.04 427.03,111.72 427.48,111.61 427.92,111.60 428.37,111.88 428.82,111.04 429.27,111.06 429.72,111.53 430.17,112.02 430.62,111.35 431.06,111.46 431.51,111.31 431.96,111.64 432.41,111.76 432.86,111.00 433.31,111.98 433.75,111.80 434.20,112.58 434.65,111.92 435.10,111.98 435.55,111.93 436.00,111.50 436.45,112.08 436.89,111.60 437.34,111.99 437.79,112.04 438.24,112.73 438.69,111.65 439.14,111.55 439.59,112.33 440.03,112.15 440.48,112.75 440.93,112.06 441.38,112.42 441.83,111.71 442.28,111.95 442.72,111.61 443.17,112.30 443.62,112.72 444.07,111.94 444.52,112.19 444.97,111.03 445.42,111.80 445.86,111.22 446.31,111.66 446.76,112.07 447.21,112.65 447.66,112.03 448.11,111.62 448.56,111.89 449.00,111.77 449.45,111.79 449.90,112.58 450.35,111.79 450.80,112.33 451.25,111.97 451.69,111.30 452.14,112.91 452.59,112.09 453.04,111.80 453.49,111.46 453.94,111.95 454.39,112.39 454.83,111.62 455.28,111.73 455.73,112.86 456.18,111.98 456.63,112.85 457.08,113.30 457.53,112.52 457.97,112.50 458.42,113.08 458.87,111.16 459.32,112.70 459.77,111.89 460.22,111.73 460.66,111.03 461.11,112.26 461.56,111.32 462.01,112.66 462.46,112.13 462.91,112.32 463.36,112.62 463.80,111.98 464.25,111.22 464.70,111.13 465.15,111.84 465.60,112.73 466.05,112.58 466.50,111.91 466.94,111.93 467.39,111.95 467.84,112.37 468.29,112.69 468.74,112.04 469.19,112.28 469.63,111.59 470.08,112.63 470.53,111.89 470.98,111.66 471.43,111.37 471.88,111.39 472.33,112.85 472.77,112.94 473.22,112.31 473.67,112.81 474.12,113.56 474.57,111.70 475.02,112.18 475.47,111.94 475.91,112.36 476.36,111.89 476.81,112.35 477.26,112.42 477.71,111.56 478.16,113.08 478.60,112.26 479.05,113.31 479.50,111.82 479.95,112.68 480.40,113.17 480.85,113.48 481.30,112.71 481.74,111.65 482.19,112.39 482.64,113.40 483.09,113.65 483.54,111.28 483.99,112.96 484.44,113.41 484.88,112.64 485.33,112.43 485.78,111.95 486.23,112.84 486.68,113.10 487.13,112.43 487.57,113.17 488.02,112.61 488.47,112.71 488.92,112.33 489.37,113.17 489.82,113.16 490.27,112.70 490.71,112.62 491.16,113.58 491.61,113.27 492.06,112.80 492.51,113.08 492.96,111.78 493.41,112.56 493.85,112.30 494.30,112.97 494.75,112.90 495.20,112.89 495.65,112.43 496.10,113.12 496.54,112.19 496.99,113.34 497.44,112.49 497.89,112.86 498.34,113.18 498.79,112.22 499.24,112.53 499.68,113.10 500.13,113.40 500.58,112.62 501.03,113.43 501.48,112.77 501.93,113.48 502.38,112.99 502.82,113.47 503.27,113.15 503.72,112.24 504.17,112.21 504.62,113.30 505.07,113.20 505.51,113.89 505.96,112.93 506.41,112.52 506.86,113.49 507.31,113.53 507.76,112.90 508.21,113.36 508.65,112.99 509.10,112.32 509.55,112.85 510.00,112.75" fill="none" stroke="#4aa6e0" stroke-width="4.4" stroke-linejoin="round" stroke-linecap="round" />
<path d="M328.36,190.50L330.15,149.75L331.05,80.47" stroke="#5b86ad" stroke-width="1.4" fill="none"/>
<circle cx="330.30" cy="103" r="1.7" fill="#fff" stroke="#6aa8d8" stroke-width="0.9"/>
<circle cx="330.30" cy="117" r="1.7" fill="#fff" stroke="#6aa8d8" stroke-width="0.9"/>
<circle cx="330.30" cy="128" r="1.7" fill="#fff" stroke="#6aa8d8" stroke-width="0.9"/>
<circle cx="330.30" cy="137" r="1.7" fill="#fff" stroke="#6aa8d8" stroke-width="0.9"/>
<circle cx="330.30" cy="150" r="1.7" fill="#fff" stroke="#6aa8d8" stroke-width="0.9"/>
<circle cx="330.30" cy="163" r="1.7" fill="#fff" stroke="#6aa8d8" stroke-width="0.9"/>
<circle cx="330.30" cy="176" r="1.7" fill="#fff" stroke="#6aa8d8" stroke-width="0.9"/>
<polyline points="332.84,38.48 333.29,39.29 333.74,39.08 334.19,39.41 334.64,39.83 335.08,38.69 335.53,40.18 335.98,39.48 336.43,40.12 336.88,39.98 337.33,40.23 337.78,39.74 338.22,39.40 338.67,39.00 339.12,40.57 339.57,39.53 340.02,39.92 340.47,40.25 340.92,40.36 341.36,40.65 341.81,41.29 342.26,41.72 342.71,41.09 343.16,42.47 343.61,42.58 344.05,43.38 344.50,42.30 344.95,43.12 345.40,42.96 345.85,43.36 346.30,43.12 346.75,43.62 347.19,43.91 347.64,44.08 348.09,43.70 348.54,43.63 348.99,43.40 349.44,43.05 349.89,43.05 350.33,44.36 350.78,44.46 351.23,43.79 351.68,44.63 352.13,43.65 352.58,43.67 353.02,44.57 353.47,43.61 353.92,43.11 354.37,43.39 354.82,43.52 355.27,43.21 355.72,42.63 356.16,42.95 356.61,42.16 357.06,42.18 357.51,42.20 357.96,42.11 358.41,41.20 358.86,41.79 359.30,41.17 359.75,42.15 360.20,41.35 360.65,41.22 361.10,41.13 361.55,40.88 361.99,41.13 362.44,41.18 362.89,41.65 363.34,42.10 363.79,42.24 364.24,42.14 364.69,41.75 365.13,41.48 365.58,41.91 366.03,42.10 366.48,41.95 366.93,42.59 367.38,42.47 367.83,42.73 368.27,42.69 368.72,43.02 369.17,43.65 369.62,43.32 370.07,43.64 370.52,42.50 370.96,42.74 371.41,43.82 371.86,44.01 372.31,43.66 372.76,44.45 373.21,43.17 373.66,43.84 374.10,44.07 374.55,43.35 375.00,43.25 375.45,43.80 375.90,43.40 376.35,44.71 376.80,44.30 377.24,44.38 377.69,44.80 378.14,43.65 378.59,42.96 379.04,44.83 379.49,44.53 379.93,43.82 380.38,44.56 380.83,44.50 381.28,44.98 381.73,44.52 382.18,45.25 382.63,44.51 383.07,44.72 383.52,44.89 383.97,45.54 384.42,45.38 384.87,45.14 385.32,45.90 385.77,46.03 386.21,46.75 386.66,46.00 387.11,45.89 387.56,45.44 388.01,46.56 388.46,46.74 388.90,45.52 389.35,45.63 389.80,46.76 390.25,46.49 390.70,47.16 391.15,46.34 391.60,45.70 392.04,45.95 392.49,46.84 392.94,46.20 393.39,46.71 393.84,46.23 394.29,46.69 394.74,46.16 395.18,45.91 395.63,46.43 396.08,46.48 396.53,46.55 396.98,46.40 397.43,47.12 397.87,47.10 398.32,47.20 398.77,46.60 399.22,47.28 399.67,47.20 400.12,47.78 400.57,48.38 401.01,48.00 401.46,47.75 401.91,48.27 402.36,48.52 402.81,48.56 403.26,48.26 403.71,48.43 404.15,48.76 404.60,49.34 405.05,49.33 405.50,47.37 405.95,49.30 406.40,49.02 406.84,49.26 407.29,50.17 407.74,48.94 408.19,49.61 408.64,50.15 409.09,49.40 409.54,50.09 409.98,49.70 410.43,50.52 410.88,49.99 411.33,49.59 411.78,50.15 412.23,50.62 412.68,50.38 413.12,49.72 413.57,50.90 414.02,50.91 414.47,49.99 414.92,50.44 415.37,50.67 415.81,51.03 416.26,50.81 416.71,50.78 417.16,51.16 417.61,52.42 418.06,51.48 418.51,52.78 418.95,51.36 419.40,52.60 419.85,52.29 420.30,52.61 420.75,53.25 421.20,52.53 421.65,53.15 422.09,52.37 422.54,53.19 422.99,53.45 423.44,52.48 423.89,53.08 424.34,53.78 424.78,54.19 425.23,52.88 425.68,53.22 426.13,53.23 426.58,53.99 427.03,54.15 427.48,54.30 427.92,53.34 428.37,53.99 428.82,53.61 429.27,55.00 429.72,53.46 430.17,54.31 430.62,55.29 431.06,54.60 431.51,53.81 431.96,53.30 432.41,55.42 432.86,54.80 433.31,54.14 433.75,55.02 434.20,54.56 434.65,54.93 435.10,54.48 435.55,55.33 436.00,54.88 436.45,55.22 436.89,54.85 437.34,55.05 437.79,54.62 438.24,55.10 438.69,54.44 439.14,56.17 439.59,55.60 440.03,55.17 440.48,55.57 440.93,56.97 441.38,55.58 441.83,56.03 442.28,54.62 442.72,55.90 443.17,55.53 443.62,56.33 444.07,55.53 444.52,57.21 444.97,56.33 445.42,56.00 445.86,56.56 446.31,55.26 446.76,55.69 447.21,54.84 447.66,56.30 448.11,55.96 448.56,55.17 449.00,55.68 449.45,54.97 449.90,55.00 450.35,55.62 450.80,55.14 451.25,54.88 451.69,54.97 452.14,55.15 452.59,55.24 453.04,55.08 453.49,54.45 453.94,53.90 454.39,55.59 454.83,55.38 455.28,54.96 455.73,54.16 456.18,55.28 456.63,53.69 457.08,53.67 457.53,55.92 457.97,54.36 458.42,54.34 458.87,54.77 459.32,55.40 459.77,54.27 460.22,54.51 460.66,53.64 461.11,53.84 461.56,54.49 462.01,52.96 462.46,52.92 462.91,52.99 463.36,53.60 463.80,53.08 464.25,53.40 464.70,53.64 465.15,54.21 465.60,53.08 466.05,54.13 466.50,52.75 466.94,53.73 467.39,52.92 467.84,53.14 468.29,53.55 468.74,53.49 469.19,53.27 469.63,52.25 470.08,52.82 470.53,53.17 470.98,52.66 471.43,53.68 471.88,53.90 472.33,53.64 472.77,52.74 473.22,53.45 473.67,53.31 474.12,53.37 474.57,53.69 475.02,52.93 475.47,53.25 475.91,54.09 476.36,54.23 476.81,53.79 477.26,54.27 477.71,53.86 478.16,53.53 478.60,53.90 479.05,53.86 479.50,54.22 479.95,54.38 480.40,54.50 480.85,53.35 481.30,54.40 481.74,54.01 482.19,54.04 482.64,53.93 483.09,54.39 483.54,55.10 483.99,53.35 484.44,55.02 484.88,54.30 485.33,55.24 485.78,54.48 486.23,55.46 486.68,54.19 487.13,54.92 487.57,56.05 488.02,54.52 488.47,56.40 488.92,55.72 489.37,55.07 489.82,55.89 490.27,55.12 490.71,55.78 491.16,56.14 491.61,55.23 492.06,55.84 492.51,56.11 492.96,55.42 493.41,56.05 493.85,56.66 494.30,56.39 494.75,54.85 495.20,55.02 495.65,57.03 496.10,55.95 496.54,55.83 496.99,56.70 497.44,56.34 497.89,57.32 498.34,57.10 498.79,56.54 499.24,57.24 499.68,57.42 500.13,57.60 500.58,58.29 501.03,58.26 501.48,58.14 501.93,58.07 502.38,58.56 502.82,57.28 503.27,59.22 503.72,58.98 504.17,58.85 504.62,58.33 505.07,59.39 505.51,58.59 505.96,59.19 506.41,59.19 506.86,58.59 507.31,58.40 507.76,58.31 508.21,59.45 508.65,58.38 509.10,58.41 509.55,58.80 510.00,58.74" fill="none" stroke="#141414" stroke-width="4.6" stroke-linejoin="round" stroke-linecap="round" />
<polyline points="332.84,38.48 333.29,39.29 333.74,39.08 334.19,39.41 334.64,39.83 335.08,38.69 335.53,40.18 335.98,39.48 336.43,40.12 336.88,39.98 337.33,40.23 337.78,39.74 338.22,39.40 338.67,39.00 339.12,40.57 339.57,39.53 340.02,39.92 340.47,40.25 340.92,40.36 341.36,40.65 341.81,41.29 342.26,41.72 342.71,41.09 343.16,42.47 343.61,42.58 344.05,43.38 344.50,42.30 344.95,43.12 345.40,42.96 345.85,43.36 346.30,43.12 346.75,43.62 347.19,43.91 347.64,44.08 348.09,43.70 348.54,43.63 348.99,43.40 349.44,43.05 349.89,43.05 350.33,44.36 350.78,44.46 351.23,43.79 351.68,44.63 352.13,43.65 352.58,43.67 353.02,44.57 353.47,43.61 353.92,43.11 354.37,43.39 354.82,43.52 355.27,43.21 355.72,42.63 356.16,42.95 356.61,42.16 357.06,42.18 357.51,42.20 357.96,42.11 358.41,41.20 358.86,41.79 359.30,41.17 359.75,42.15 360.20,41.35 360.65,41.22 361.10,41.13 361.55,40.88 361.99,41.13 362.44,41.18 362.89,41.65 363.34,42.10 363.79,42.24 364.24,42.14 364.69,41.75 365.13,41.48 365.58,41.91 366.03,42.10 366.48,41.95 366.93,42.59 367.38,42.47 367.83,42.73 368.27,42.69 368.72,43.02 369.17,43.65 369.62,43.32 370.07,43.64 370.52,42.50 370.96,42.74 371.41,43.82 371.86,44.01 372.31,43.66 372.76,44.45 373.21,43.17 373.66,43.84 374.10,44.07 374.55,43.35 375.00,43.25 375.45,43.80 375.90,43.40 376.35,44.71 376.80,44.30 377.24,44.38 377.69,44.80 378.14,43.65 378.59,42.96 379.04,44.83 379.49,44.53 379.93,43.82 380.38,44.56 380.83,44.50 381.28,44.98 381.73,44.52 382.18,45.25 382.63,44.51 383.07,44.72 383.52,44.89 383.97,45.54 384.42,45.38 384.87,45.14 385.32,45.90 385.77,46.03 386.21,46.75 386.66,46.00 387.11,45.89 387.56,45.44 388.01,46.56 388.46,46.74 388.90,45.52 389.35,45.63 389.80,46.76 390.25,46.49 390.70,47.16 391.15,46.34 391.60,45.70 392.04,45.95 392.49,46.84 392.94,46.20 393.39,46.71 393.84,46.23 394.29,46.69 394.74,46.16 395.18,45.91 395.63,46.43 396.08,46.48 396.53,46.55 396.98,46.40 397.43,47.12 397.87,47.10 398.32,47.20 398.77,46.60 399.22,47.28 399.67,47.20 400.12,47.78 400.57,48.38 401.01,48.00 401.46,47.75 401.91,48.27 402.36,48.52 402.81,48.56 403.26,48.26 403.71,48.43 404.15,48.76 404.60,49.34 405.05,49.33 405.50,47.37 405.95,49.30 406.40,49.02 406.84,49.26 407.29,50.17 407.74,48.94 408.19,49.61 408.64,50.15 409.09,49.40 409.54,50.09 409.98,49.70 410.43,50.52 410.88,49.99 411.33,49.59 411.78,50.15 412.23,50.62 412.68,50.38 413.12,49.72 413.57,50.90 414.02,50.91 414.47,49.99 414.92,50.44 415.37,50.67 415.81,51.03 416.26,50.81 416.71,50.78 417.16,51.16 417.61,52.42 418.06,51.48 418.51,52.78 418.95,51.36 419.40,52.60 419.85,52.29 420.30,52.61 420.75,53.25 421.20,52.53 421.65,53.15 422.09,52.37 422.54,53.19 422.99,53.45 423.44,52.48 423.89,53.08 424.34,53.78 424.78,54.19 425.23,52.88 425.68,53.22 426.13,53.23 426.58,53.99 427.03,54.15 427.48,54.30 427.92,53.34 428.37,53.99 428.82,53.61 429.27,55.00 429.72,53.46 430.17,54.31 430.62,55.29 431.06,54.60 431.51,53.81 431.96,53.30 432.41,55.42 432.86,54.80 433.31,54.14 433.75,55.02 434.20,54.56 434.65,54.93 435.10,54.48 435.55,55.33 436.00,54.88 436.45,55.22 436.89,54.85 437.34,55.05 437.79,54.62 438.24,55.10 438.69,54.44 439.14,56.17 439.59,55.60 440.03,55.17 440.48,55.57 440.93,56.97 441.38,55.58 441.83,56.03 442.28,54.62 442.72,55.90 443.17,55.53 443.62,56.33 444.07,55.53 444.52,57.21 444.97,56.33 445.42,56.00 445.86,56.56 446.31,55.26 446.76,55.69 447.21,54.84 447.66,56.30 448.11,55.96 448.56,55.17 449.00,55.68 449.45,54.97 449.90,55.00 450.35,55.62 450.80,55.14 451.25,54.88 451.69,54.97 452.14,55.15 452.59,55.24 453.04,55.08 453.49,54.45 453.94,53.90 454.39,55.59 454.83,55.38 455.28,54.96 455.73,54.16 456.18,55.28 456.63,53.69 457.08,53.67 457.53,55.92 457.97,54.36 458.42,54.34 458.87,54.77 459.32,55.40 459.77,54.27 460.22,54.51 460.66,53.64 461.11,53.84 461.56,54.49 462.01,52.96 462.46,52.92 462.91,52.99 463.36,53.60 463.80,53.08 464.25,53.40 464.70,53.64 465.15,54.21 465.60,53.08 466.05,54.13 466.50,52.75 466.94,53.73 467.39,52.92 467.84,53.14 468.29,53.55 468.74,53.49 469.19,53.27 469.63,52.25 470.08,52.82 470.53,53.17 470.98,52.66 471.43,53.68 471.88,53.90 472.33,53.64 472.77,52.74 473.22,53.45 473.67,53.31 474.12,53.37 474.57,53.69 475.02,52.93 475.47,53.25 475.91,54.09 476.36,54.23 476.81,53.79 477.26,54.27 477.71,53.86 478.16,53.53 478.60,53.90 479.05,53.86 479.50,54.22 479.95,54.38 480.40,54.50 480.85,53.35 481.30,54.40 481.74,54.01 482.19,54.04 482.64,53.93 483.09,54.39 483.54,55.10 483.99,53.35 484.44,55.02 484.88,54.30 485.33,55.24 485.78,54.48 486.23,55.46 486.68,54.19 487.13,54.92 487.57,56.05 488.02,54.52 488.47,56.40 488.92,55.72 489.37,55.07 489.82,55.89 490.27,55.12 490.71,55.78 491.16,56.14 491.61,55.23 492.06,55.84 492.51,56.11 492.96,55.42 493.41,56.05 493.85,56.66 494.30,56.39 494.75,54.85 495.20,55.02 495.65,57.03 496.10,55.95 496.54,55.83 496.99,56.70 497.44,56.34 497.89,57.32 498.34,57.10 498.79,56.54 499.24,57.24 499.68,57.42 500.13,57.60 500.58,58.29 501.03,58.26 501.48,58.14 501.93,58.07 502.38,58.56 502.82,57.28 503.27,59.22 503.72,58.98 504.17,58.85 504.62,58.33 505.07,59.39 505.51,58.59 505.96,59.19 506.41,59.19 506.86,58.59 507.31,58.40 507.76,58.31 508.21,59.45 508.65,58.38 509.10,58.41 509.55,58.80 510.00,58.74" fill="none" stroke="#4a4a4a" stroke-width="1.0" stroke-linejoin="round" stroke-linecap="round" stroke-dasharray="1.2 3.3"/>
<path d="M331.72,38.91V82" stroke="#181818" stroke-width="1.4" fill="none"/>
<circle cx="331.7" cy="45.2" r="1.9" fill="#fff" stroke="#222" stroke-width="1"/>
<circle cx="331.7" cy="64.6" r="1.9" fill="#fff" stroke="#222" stroke-width="1"/>
<circle cx="331.4" cy="79.0" r="1.9" fill="#fff" stroke="#c89a3a" stroke-width="1"/>
<rect x="307.9" y="7.0" width="202.90" height="204.00" fill="none" stroke="#111" stroke-width="1.5"/>
<path d="M330.60,211.0V206.0M330.60,7.0V12.0M375.45,211.0V206.0M375.45,7.0V12.0M420.30,211.0V206.0M420.30,7.0V12.0M465.15,211.0V206.0M465.15,7.0V12.0M510.00,211.0V206.0M510.00,7.0V12.0M353.03,211.0V208.0M353.03,7.0V10.0M397.88,211.0V208.0M397.88,7.0V10.0M442.73,211.0V208.0M442.73,7.0V10.0M487.58,211.0V208.0M487.58,7.0V10.0M307.9,190.50H312.9M510.8,190.50H505.8M307.9,149.75H312.9M510.8,149.75H505.8M307.9,109.00H312.9M510.8,109.00H505.8M307.9,68.25H312.9M510.8,68.25H505.8M307.9,27.50H312.9M510.8,27.50H505.8M307.9,170.12H310.9M510.8,170.12H507.8M307.9,129.38H310.9M510.8,129.38H507.8M307.9,88.62H310.9M510.8,88.62H507.8M307.9,47.88H310.9M510.8,47.88H507.8" stroke="#111" stroke-width="1.5" fill="none"/>
<text transform="translate(301.80,195.40) scale(1.0800,1)" font-size="13.6" text-anchor="end" fill="#111" stroke="#111" font-weight="normal" >0.0</text>
<text transform="translate(301.80,154.65) scale(1.0800,1)" font-size="13.6" text-anchor="end" fill="#111" stroke="#111" font-weight="normal" >0.5</text>
<text transform="translate(301.80,113.90) scale(1.0800,1)" font-size="13.6" text-anchor="end" fill="#111" stroke="#111" font-weight="normal" >1.0</text>
<text transform="translate(301.80,73.15) scale(1.0800,1)" font-size="13.6" text-anchor="end" fill="#111" stroke="#111" font-weight="normal" >1.5</text>
<text transform="translate(301.80,32.40) scale(1.0800,1)" font-size="13.6" text-anchor="end" fill="#111" stroke="#111" font-weight="normal" >2.0</text>
<text transform="translate(330.60,227.40) scale(1.0300,1)" font-size="13.0" text-anchor="middle" fill="#111" stroke="#111" font-weight="normal" >0</text>
<text transform="translate(375.45,227.40) scale(1.0300,1)" font-size="13.0" text-anchor="middle" fill="#111" stroke="#111" font-weight="normal" >10</text>
<text transform="translate(420.30,227.40) scale(1.0300,1)" font-size="13.0" text-anchor="middle" fill="#111" stroke="#111" font-weight="normal" >20</text>
<text transform="translate(465.15,227.40) scale(1.0300,1)" font-size="13.0" text-anchor="middle" fill="#111" stroke="#111" font-weight="normal" >30</text>
<text transform="translate(510.00,227.40) scale(1.0300,1)" font-size="13.0" text-anchor="middle" fill="#111" stroke="#111" font-weight="normal" >40</text>
<text id="cxl" transform="translate(409.45,248.80) scale(1.1641,1)" font-size="12.5" text-anchor="middle" fill="#111" stroke="#111" font-weight="normal" >Pump-probe delay (ps)</text>
<text id="cyl" transform="translate(275.00,109.54) rotate(-90) scale(1.0797,1)" font-size="12.5" text-anchor="middle" fill="#111" stroke="#111" font-weight="normal" >-ΔR/R (x10<tspan dy="-4.3" font-size="8.3">-2</tspan><tspan dy="4.3">)</tspan></text>
<text id="ctitle" transform="translate(339.49,22.40) scale(1.1507,1)" font-size="10.8" text-anchor="start" fill="#111" stroke="#111" font-weight="normal" >VO<tspan dy="3.4" font-size="7.8">2</tspan><tspan dy="-3.4">(5.3 nm)/TiO</tspan><tspan dy="3.4" font-size="7.8">2</tspan><tspan dy="-3.4">(x nm)/MgF</tspan><tspan dy="3.4" font-size="7.8">2</tspan></text>
<text id="c13" transform="translate(337.77,67.70) scale(1.0745,1)" font-size="10.5" text-anchor="start" fill="#dea53a" stroke="#dea53a" font-weight="normal" >t=1.3 ps</text>
<path d="M336.40,70.50V87.30" stroke="#e0a030" stroke-width="1.0" fill="none"/>
<path d="M336.40,90.00L334.40,85.50L338.40,85.50Z" fill="#e0a030"/>
<text id="c185" transform="translate(342.58,91.90) scale(1.0806,1)" font-size="10.5" text-anchor="start" fill="#5fa6d8" stroke="#5fa6d8" font-weight="normal" >t=1.85 ps</text>
<text id="c22" transform="translate(455.79,47.10) scale(1.0780,1)" font-size="10.5" text-anchor="start" fill="#111" stroke="#111" font-weight="normal" >x=2.2 nm</text>
<text id="c43" transform="translate(417.08,104.40) scale(1.1125,1)" font-size="10.5" text-anchor="start" fill="#dea53a" stroke="#dea53a" font-weight="normal" >x=4.3 nm</text>
<text id="c98" transform="translate(457.61,126.50) scale(1.0772,1)" font-size="10.5" text-anchor="start" fill="#5fa6d8" stroke="#5fa6d8" font-weight="normal" >x=9.8 nm</text>
<text id="c25" transform="translate(340.59,133.50) scale(1.0750,1)" font-size="10.5" text-anchor="start" fill="#2c7f58" stroke="#2c7f58" font-weight="normal" >t=2.5 ps</text>
<path d="M341.40,135.50V155.20" stroke="#1f8a5a" stroke-width="1.0" fill="none"/>
<path d="M341.40,157.90L339.40,153.40L343.40,153.40Z" fill="#1f8a5a"/>
<text id="c82" transform="translate(369.60,146.30) scale(1.1000,1)" font-size="10.5" text-anchor="start" fill="#e6e27a" stroke="#e6e27a" font-weight="normal" >t=8.2 ps</text>
<path d="M367.90,148.50V157.50" stroke="#e6e27a" stroke-width="1.0" fill="none"/>
<path d="M367.90,159.90L366.30,155.90L369.50,155.90Z" fill="#e6e27a"/>
<text id="c157" transform="translate(452.77,150.20) scale(1.0705,1)" font-size="10.5" text-anchor="start" fill="#2c7f58" stroke="#2c7f58" font-weight="normal" >x=15.7 nm</text>
<text id="c801" transform="translate(452.88,173.00) scale(1.0911,1)" font-size="10.5" text-anchor="start" fill="#e6e27a" stroke="#e6e27a" font-weight="normal" >x=80.1 nm</text>
<text id="cbulk" transform="translate(339.79,197.30) scale(1.0394,1)" font-size="8.8" text-anchor="start" fill="#3a7cc0" stroke="#3a7cc0" font-weight="normal" >VO<tspan dy="2.3" font-size="7">2</tspan><tspan dy="-2.3">(5.3 nm)/TiO</tspan><tspan dy="2.3" font-size="7">2</tspan><tspan dy="-2.3">(bulk)</tspan></text>
<text id="lc" transform="translate(270.02,11.90) scale(1.0407,1)" font-size="19" text-anchor="start" fill="#000" stroke="#000" font-weight="bold" >c</text>
<rect x="47.4" y="255.7" width="206.50" height="202.90" fill="none" stroke="#111" stroke-width="1.5"/>
<path d="M55.10,458.6V453.6M55.10,255.7V260.7M85.68,458.6V453.6M85.68,255.7V260.7M116.26,458.6V453.6M116.26,255.7V260.7M146.84,458.6V453.6M146.84,255.7V260.7M177.42,458.6V453.6M177.42,255.7V260.7M208.00,458.6V453.6M208.00,255.7V260.7M238.58,458.6V453.6M238.58,255.7V260.7M70.39,458.6V455.6M70.39,255.7V258.7M100.97,458.6V455.6M100.97,255.7V258.7M131.55,458.6V455.6M131.55,255.7V258.7M162.13,458.6V455.6M162.13,255.7V258.7M192.71,458.6V455.6M192.71,255.7V258.7M223.29,458.6V455.6M223.29,255.7V258.7M47.4,449.70H52.4M253.9,449.70H248.9M47.4,414.35H52.4M253.9,414.35H248.9M47.4,379.00H52.4M253.9,379.00H248.9M47.4,343.65H52.4M253.9,343.65H248.9M47.4,308.30H52.4M253.9,308.30H248.9M47.4,272.95H52.4M253.9,272.95H248.9M47.4,432.02H50.4M253.9,432.02H250.9M47.4,396.67H50.4M253.9,396.67H250.9M47.4,361.32H50.4M253.9,361.32H250.9M47.4,325.97H50.4M253.9,325.97H250.9M47.4,290.62H50.4M253.9,290.62H250.9" stroke="#111" stroke-width="1.5" fill="none"/>
<text transform="translate(42.20,454.30) scale(1.0700,1)" font-size="12.8" text-anchor="end" fill="#111" stroke="#111" font-weight="normal" >0</text>
<text transform="translate(42.20,418.95) scale(1.0700,1)" font-size="12.8" text-anchor="end" fill="#111" stroke="#111" font-weight="normal" >10</text>
<text transform="translate(42.20,383.60) scale(1.0700,1)" font-size="12.8" text-anchor="end" fill="#111" stroke="#111" font-weight="normal" >20</text>
<text transform="translate(42.20,348.25) scale(1.0700,1)" font-size="12.8" text-anchor="end" fill="#111" stroke="#111" font-weight="normal" >30</text>
<text transform="translate(42.20,312.90) scale(1.0700,1)" font-size="12.8" text-anchor="end" fill="#111" stroke="#111" font-weight="normal" >40</text>
<text transform="translate(42.20,277.55) scale(1.0700,1)" font-size="12.8" text-anchor="end" fill="#111" stroke="#111" font-weight="normal" >50</text>
<text transform="translate(55.10,475.20) scale(1.0300,1)" font-size="13.0" text-anchor="middle" fill="#111" stroke="#111" font-weight="normal" >0</text>
<text transform="translate(85.68,475.20) scale(1.0300,1)" font-size="13.0" text-anchor="middle" fill="#111" stroke="#111" font-weight="normal" >1</text>
<text transform="translate(116.26,475.20) scale(1.0300,1)" font-size="13.0" text-anchor="middle" fill="#111" stroke="#111" font-weight="normal" >2</text>
<text transform="translate(146.84,475.20) scale(1.0300,1)" font-size="13.0" text-anchor="middle" fill="#111" stroke="#111" font-weight="normal" >3</text>
<text transform="translate(177.42,475.20) scale(1.0300,1)" font-size="13.0" text-anchor="middle" fill="#111" stroke="#111" font-weight="normal" >4</text>
<text transform="translate(208.00,475.20) scale(1.0300,1)" font-size="13.0" text-anchor="middle" fill="#111" stroke="#111" font-weight="normal" >5</text>
<text transform="translate(238.58,475.20) scale(1.0300,1)" font-size="13.0" text-anchor="middle" fill="#111" stroke="#111" font-weight="normal" >6</text>
<text id="bxl" transform="translate(151.25,495.90) scale(1.0761,1)" font-size="12.5" text-anchor="middle" fill="#111" stroke="#111" font-weight="normal" >Pump-probe delay(ps)</text>
<text id="byl" transform="translate(19.00,357.00) rotate(-90) scale(1.0838,1)" font-size="12.3" text-anchor="middle" fill="#111" stroke="#111" font-weight="normal" >Thickness of VO<tspan dy="3.4" font-size="9">2</tspan><tspan dy="-3.4"> (nm)</tspan></text>
<path d="M66.6,440.1L216.5,267.5" stroke="#d6486a" stroke-width="1.3"/>
<circle cx="67.64" cy="440.86" r="2.9" fill="none" stroke="#e9a526" stroke-width="2.6"/>
<circle cx="71.61" cy="433.44" r="3.4" fill="none" stroke="#e9a526" stroke-width="1.3"/>
<path d="M80.48,415.06H92.71M80.48,412.76V417.36M92.71,412.76V417.36" stroke="#e9a526" stroke-width="1.3"/>
<circle cx="86.60" cy="415.06" r="3.4" fill="none" stroke="#e9a526" stroke-width="1.3"/>
<path d="M103.72,386.42H123.29M103.72,384.12V388.72M123.29,384.12V388.72" stroke="#e9a526" stroke-width="1.3"/>
<circle cx="113.51" cy="386.42" r="3.4" fill="none" stroke="#e9a526" stroke-width="1.3"/>
<path d="M198.52,272.95H235.83M198.52,270.65V275.25M235.83,270.65V275.25" stroke="#e9a526" stroke-width="1.3"/>
<circle cx="217.17" cy="272.95" r="3.4" fill="none" stroke="#e9a526" stroke-width="1.3"/>
<text id="b98" transform="translate(93.45,431.00) scale(1.1599,1)" font-size="12.8" text-anchor="start" fill="#111" stroke="#111" font-weight="normal" >9.8×10</text>
<text id="b98s" transform="translate(139.71,426.20) scale(1.1117,1)" font-size="8.6" text-anchor="start" fill="#111" stroke="#111" font-weight="normal" >3</text>
<text id="b98m" transform="translate(150.29,431.00) scale(1.1803,1)" font-size="12.8" text-anchor="start" fill="#111" stroke="#111" font-weight="normal" >m/s</text>
<text id="lb" transform="translate(5.19,261.20) scale(1.0101,1)" font-size="19" text-anchor="start" fill="#000" stroke="#000" font-weight="bold" >b</text>
<rect x="308.5" y="255.4" width="202.80" height="203.00" fill="none" stroke="#111" stroke-width="1.5"/>
<path d="M308.50,458.4V453.4M308.50,255.4V260.4M349.10,458.4V453.4M349.10,255.4V260.4M389.70,458.4V453.4M389.70,255.4V260.4M430.30,458.4V453.4M430.30,255.4V260.4M470.90,458.4V453.4M470.90,255.4V260.4M511.50,458.4V453.4M511.50,255.4V260.4M328.80,458.4V455.4M328.80,255.4V258.4M369.40,458.4V455.4M369.40,255.4V258.4M410.00,458.4V455.4M410.00,255.4V258.4M450.60,458.4V455.4M450.60,255.4V258.4M491.20,458.4V455.4M491.20,255.4V258.4M308.5,438.00H313.5M511.3,438.00H506.3M308.5,397.35H313.5M511.3,397.35H506.3M308.5,356.70H313.5M511.3,356.70H506.3M308.5,316.05H313.5M511.3,316.05H506.3M308.5,275.40H313.5M511.3,275.40H506.3M308.5,458.32H311.5M511.3,458.32H508.3M308.5,417.68H311.5M511.3,417.68H508.3M308.5,377.02H311.5M511.3,377.02H508.3M308.5,336.38H311.5M511.3,336.38H508.3M308.5,295.73H311.5M511.3,295.73H508.3M308.5,255.07H311.5M511.3,255.07H508.3" stroke="#111" stroke-width="1.5" fill="none"/>
<text transform="translate(302.60,442.60) scale(1.0700,1)" font-size="12.8" text-anchor="end" fill="#111" stroke="#111" font-weight="normal" >0</text>
<text transform="translate(302.60,401.95) scale(1.0700,1)" font-size="12.8" text-anchor="end" fill="#111" stroke="#111" font-weight="normal" >20</text>
<text transform="translate(302.60,361.30) scale(1.0700,1)" font-size="12.8" text-anchor="end" fill="#111" stroke="#111" font-weight="normal" >40</text>
<text transform="translate(302.60,320.65) scale(1.0700,1)" font-size="12.8" text-anchor="end" fill="#111" stroke="#111" font-weight="normal" >60</text>
<text transform="translate(302.60,280.00) scale(1.0700,1)" font-size="12.8" text-anchor="end" fill="#111" stroke="#111" font-weight="normal" >80</text>
<text transform="translate(308.50,474.60) scale(1.0300,1)" font-size="13.0" text-anchor="middle" fill="#111" stroke="#111" font-weight="normal" >0</text>
<text transform="translate(349.10,474.60) scale(1.0300,1)" font-size="13.0" text-anchor="middle" fill="#111" stroke="#111" font-weight="normal" >2</text>
<text transform="translate(389.70,474.60) scale(1.0300,1)" font-size="13.0" text-anchor="middle" fill="#111" stroke="#111" font-weight="normal" >4</text>
<text transform="translate(430.30,474.60) scale(1.0300,1)" font-size="13.0" text-anchor="middle" fill="#111" stroke="#111" font-weight="normal" >6</text>
<text transform="translate(470.90,474.60) scale(1.0300,1)" font-size="13.0" text-anchor="middle" fill="#111" stroke="#111" font-weight="normal" >8</text>
<text transform="translate(511.50,474.60) scale(1.0300,1)" font-size="13.0" text-anchor="middle" fill="#111" stroke="#111" font-weight="normal" >10</text>
<text id="dxl" transform="translate(409.50,495.40) scale(1.0521,1)" font-size="12.5" text-anchor="middle" fill="#111" stroke="#111" font-weight="normal" >Pump-probe delay(ps)</text>
<text id="dyl" transform="translate(280.00,356.25) rotate(-90) scale(1.0883,1)" font-size="12.3" text-anchor="middle" fill="#111" stroke="#111" font-weight="normal" >Thickness of TiO<tspan dy="3.4" font-size="9">2</tspan><tspan dy="-3.4"> (nm)</tspan></text>
<path d="M330.4,435.6L473.8,276.2" stroke="#d6486a" stroke-width="1.3"/>
<circle cx="330.22" cy="433.53" r="2.9" fill="none" stroke="#3ea2dc" stroke-width="2.6"/>
<circle cx="334.48" cy="429.06" r="3.4" fill="none" stroke="#3ea2dc" stroke-width="1.3"/>
<path d="M341.18,418.08H350.12M341.18,415.78V420.38M350.12,415.78V420.38" stroke="#3ea2dc" stroke-width="1.4"/>
<circle cx="345.65" cy="418.08" r="3.4" fill="none" stroke="#3ea2dc" stroke-width="1.3"/>
<path d="M352.75,406.70H365.34M352.75,404.40V409.00M365.34,404.40V409.00" stroke="#3ea2dc" stroke-width="1.4"/>
<circle cx="359.05" cy="406.70" r="3.4" fill="none" stroke="#3ea2dc" stroke-width="1.3"/>
<path d="M464.40,275.40H485.52M464.40,273.10V277.70M485.52,273.10V277.70" stroke="#3ea2dc" stroke-width="1.4"/>
<circle cx="474.96" cy="275.40" r="3.4" fill="none" stroke="#3ea2dc" stroke-width="1.3"/>
<text id="d11" transform="translate(363.26,429.00) scale(1.0576,1)" font-size="12.8" text-anchor="start" fill="#111" stroke="#111" font-weight="normal" >1.1×10</text>
<text id="d11s" transform="translate(406.77,424.40) scale(0.8859,1)" font-size="8.6" text-anchor="start" fill="#111" stroke="#111" font-weight="normal" >4</text>
<text id="d11m" transform="translate(417.79,429.00) scale(1.1544,1)" font-size="12.8" text-anchor="start" fill="#111" stroke="#111" font-weight="normal" >m/s</text>
<text id="ld" transform="translate(269.99,261.20) scale(1.0269,1)" font-size="19" text-anchor="start" fill="#000" stroke="#000" font-weight="bold" >d</text>
</svg></body></html>
